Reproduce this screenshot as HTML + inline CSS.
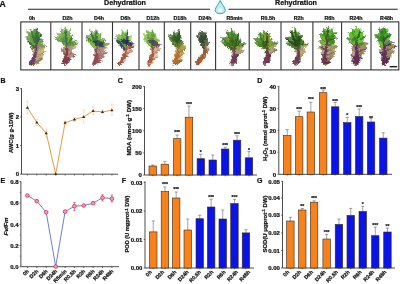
<!DOCTYPE html>
<html><head><meta charset="utf-8"><style>
html,body{margin:0;padding:0;background:#fff;width:400px;height:284px;overflow:hidden}
svg{display:block;will-change:transform}
text{font-family:"Liberation Sans", sans-serif;stroke:#111;stroke-width:0.22px}
</style></head><body>
<svg width="400" height="284" viewBox="0 0 400 284">
<defs><filter id="soft" x="-5%" y="-5%" width="110%" height="110%"><feTurbulence type="turbulence" baseFrequency="0.35" numOctaves="2" seed="4" result="t"/><feDisplacementMap in="SourceGraphic" in2="t" scale="2.6" xChannelSelector="R" yChannelSelector="G" result="d"/><feGaussianBlur in="d" stdDeviation="0.6"/></filter><linearGradient id="pg0" x1="0" y1="0" x2="0" y2="1"><stop offset="0" stop-color="#7aa84a" stop-opacity="1.00"/><stop offset="0.3" stop-color="#5c9440" stop-opacity="1.00"/><stop offset="0.5" stop-color="#7a6a50" stop-opacity="1.00"/><stop offset="0.75" stop-color="#9a7a6a" stop-opacity="0.80"/><stop offset="1" stop-color="#5a2a5a" stop-opacity="0.80"/></linearGradient><linearGradient id="pg1" x1="0" y1="0" x2="0" y2="1"><stop offset="0" stop-color="#8cc050" stop-opacity="1.00"/><stop offset="0.3" stop-color="#6aa040" stop-opacity="1.00"/><stop offset="0.45" stop-color="#6a7060" stop-opacity="1.00"/><stop offset="0.7" stop-color="#9a6a5a" stop-opacity="0.80"/><stop offset="1" stop-color="#7a3a4a" stop-opacity="0.80"/></linearGradient><linearGradient id="pg2" x1="0" y1="0" x2="0" y2="1"><stop offset="0" stop-color="#8cc050" stop-opacity="1.00"/><stop offset="0.3" stop-color="#6aa040" stop-opacity="1.00"/><stop offset="0.45" stop-color="#5a5a6a" stop-opacity="1.00"/><stop offset="0.7" stop-color="#a06a60" stop-opacity="0.80"/><stop offset="1" stop-color="#8a4a4a" stop-opacity="0.80"/></linearGradient><linearGradient id="pg3" x1="0" y1="0" x2="0" y2="1"><stop offset="0" stop-color="#90d050" stop-opacity="1.00"/><stop offset="0.3" stop-color="#70b040" stop-opacity="1.00"/><stop offset="0.4" stop-color="#40406a" stop-opacity="0.92"/><stop offset="0.6" stop-color="#b06a50" stop-opacity="0.52"/><stop offset="1" stop-color="#b05a3a" stop-opacity="0.45"/></linearGradient><linearGradient id="pg4" x1="0" y1="0" x2="0" y2="1"><stop offset="0" stop-color="#8cc050" stop-opacity="1.00"/><stop offset="0.3" stop-color="#6aa040" stop-opacity="1.00"/><stop offset="0.42" stop-color="#6a5a7a" stop-opacity="0.92"/><stop offset="0.6" stop-color="#c07a50" stop-opacity="0.56"/><stop offset="1" stop-color="#b0603a" stop-opacity="0.45"/></linearGradient><linearGradient id="pg5" x1="0" y1="0" x2="0" y2="1"><stop offset="0" stop-color="#4a8a35" stop-opacity="1.00"/><stop offset="0.3" stop-color="#3a6a2a" stop-opacity="1.00"/><stop offset="0.5" stop-color="#8a8a40" stop-opacity="0.96"/><stop offset="0.75" stop-color="#d08a40" stop-opacity="0.90"/><stop offset="1" stop-color="#c07030" stop-opacity="0.90"/></linearGradient><linearGradient id="pg6" x1="0" y1="0" x2="0" y2="1"><stop offset="0" stop-color="#5a7a50" stop-opacity="1.00"/><stop offset="0.35" stop-color="#4a5a45" stop-opacity="1.00"/><stop offset="0.55" stop-color="#8a6a4a" stop-opacity="0.90"/><stop offset="0.8" stop-color="#c07a45" stop-opacity="0.90"/><stop offset="1" stop-color="#b0603a" stop-opacity="0.90"/></linearGradient><linearGradient id="pg7" x1="0" y1="0" x2="0" y2="1"><stop offset="0" stop-color="#4a8a28" stop-opacity="1.00"/><stop offset="0.35" stop-color="#3a7020" stop-opacity="1.00"/><stop offset="0.5" stop-color="#6a6a35" stop-opacity="1.00"/><stop offset="0.7" stop-color="#7a4a55" stop-opacity="0.60"/><stop offset="1" stop-color="#6a3a50" stop-opacity="0.60"/></linearGradient><linearGradient id="pg8" x1="0" y1="0" x2="0" y2="1"><stop offset="0" stop-color="#4a8a28" stop-opacity="1.00"/><stop offset="0.35" stop-color="#3a7020" stop-opacity="1.00"/><stop offset="0.5" stop-color="#6a6a35" stop-opacity="1.00"/><stop offset="0.7" stop-color="#7a4a55" stop-opacity="0.60"/><stop offset="1" stop-color="#6a3a50" stop-opacity="0.60"/></linearGradient><linearGradient id="pg9" x1="0" y1="0" x2="0" y2="1"><stop offset="0" stop-color="#4a8a28" stop-opacity="1.00"/><stop offset="0.35" stop-color="#3a7020" stop-opacity="1.00"/><stop offset="0.5" stop-color="#6a6a35" stop-opacity="1.00"/><stop offset="0.7" stop-color="#7a4a55" stop-opacity="0.60"/><stop offset="1" stop-color="#6a3a50" stop-opacity="0.60"/></linearGradient><linearGradient id="pg10" x1="0" y1="0" x2="0" y2="1"><stop offset="0" stop-color="#4a9a30" stop-opacity="1.00"/><stop offset="0.3" stop-color="#3a8028" stop-opacity="1.00"/><stop offset="0.45" stop-color="#8a8a40" stop-opacity="0.94"/><stop offset="0.7" stop-color="#7a4a5a" stop-opacity="0.70"/><stop offset="1" stop-color="#6a3a5a" stop-opacity="0.70"/></linearGradient><linearGradient id="pg11" x1="0" y1="0" x2="0" y2="1"><stop offset="0" stop-color="#5ab838" stop-opacity="1.00"/><stop offset="0.3" stop-color="#3a9028" stop-opacity="1.00"/><stop offset="0.42" stop-color="#5a5a50" stop-opacity="0.96"/><stop offset="0.65" stop-color="#7a4a68" stop-opacity="0.70"/><stop offset="1" stop-color="#6a3a5a" stop-opacity="0.70"/></linearGradient><linearGradient id="pg12" x1="0" y1="0" x2="0" y2="1"><stop offset="0" stop-color="#5ab838" stop-opacity="1.00"/><stop offset="0.3" stop-color="#3a9028" stop-opacity="1.00"/><stop offset="0.42" stop-color="#5a5a50" stop-opacity="0.96"/><stop offset="0.65" stop-color="#7a4a68" stop-opacity="0.70"/><stop offset="1" stop-color="#6a3a5a" stop-opacity="0.70"/></linearGradient></defs>
<rect width="400" height="284" fill="#fff"/>
<text x="-0.4" y="7.2" font-size="8.6" text-anchor="start" font-weight="bold" fill="#111" >A</text>
<line x1="28" y1="9.3" x2="210" y2="9.3" stroke="#222" stroke-width="1.1"/>
<line x1="228.5" y1="9.3" x2="397.7" y2="9.3" stroke="#222" stroke-width="1.1"/>
<text x="125" y="5.4" font-size="7.2" text-anchor="middle" font-weight="bold" fill="#111" >Dehydration</text>
<text x="296" y="5.4" font-size="7.2" text-anchor="middle" font-weight="bold" fill="#111" >Rehydration</text>
<path d="M220.2,0.5 C221.5,4 225.3,7.5 225.3,10.2 C225.3,12.6 223,13.6 220.2,13.6 C217.4,13.6 215.1,12.6 215.1,10.2 C215.1,7.5 218.9,4 220.2,0.5 Z" fill="#bfeaf0" stroke="#2f9aa0" stroke-width="0.9"/>
<ellipse cx="220.2" cy="10" rx="2.2" ry="1.8" fill="#ffffff" opacity="0.9"/>
<text x="32" y="19.9" font-size="5.3" text-anchor="middle" font-weight="bold" fill="#111" >0h</text>
<text x="67.5" y="19.9" font-size="5.3" text-anchor="middle" font-weight="bold" fill="#111" >D2h</text>
<text x="99" y="19.9" font-size="5.3" text-anchor="middle" font-weight="bold" fill="#111" >D4h</text>
<text x="125.5" y="19.9" font-size="5.3" text-anchor="middle" font-weight="bold" fill="#111" >D6h</text>
<text x="153" y="19.9" font-size="5.3" text-anchor="middle" font-weight="bold" fill="#111" >D12h</text>
<text x="180" y="19.9" font-size="5.3" text-anchor="middle" font-weight="bold" fill="#111" >D18h</text>
<text x="205" y="19.9" font-size="5.3" text-anchor="middle" font-weight="bold" fill="#111" >D24h</text>
<text x="234.5" y="19.9" font-size="5.3" text-anchor="middle" font-weight="bold" fill="#111" >R5min</text>
<text x="268" y="19.9" font-size="5.3" text-anchor="middle" font-weight="bold" fill="#111" >R0.5h</text>
<text x="298.8" y="19.9" font-size="5.3" text-anchor="middle" font-weight="bold" fill="#111" >R2h</text>
<text x="329.5" y="19.9" font-size="5.3" text-anchor="middle" font-weight="bold" fill="#111" >R6h</text>
<text x="356" y="19.9" font-size="5.3" text-anchor="middle" font-weight="bold" fill="#111" >R24h</text>
<text x="386.6" y="19.9" font-size="5.3" text-anchor="middle" font-weight="bold" fill="#111" >R48h</text>
<g id="plants" filter="url(#soft)">
<path d="M32.70,26.20 L35.28,29.44 L36.90,25.40 L37.80,31.80 L41.10,32.10 L39.81,37.20 L43.60,38.90 L41.33,42.25 L46.20,45.60 L41.59,48.60 L45.30,51.60 L40.06,54.55 L42.80,57.50 L37.26,60.00 L38.60,62.50 L33.79,63.75 L32.70,65.00 L30.73,64.20 L28.40,63.40 L30.20,61.30 L30.10,59.20 L32.29,55.80 L32.70,52.40 L32.72,49.00 L29.30,45.60 L31.19,43.10 L26.80,40.60 L29.70,39.24 L24.20,35.50 L29.16,34.84 L25.00,29.60 L30.69,31.80 L29.30,27.90 L33.00,30.44 Z" fill="url(#pg0)" opacity="0.8"/>
<path d="M35.82,44.48 Q37.82,36.44 35.16,26.80 Q33.23,36.61 35.82,44.48 Z" fill="#2f6040" opacity="0.9"/>
<path d="M35.58,45.83 Q38.98,38.95 38.10,29.75 Q34.44,38.24 35.58,45.83 Z" fill="#3f7a30" opacity="0.9"/>
<path d="M36.33,45.21 Q40.26,42.27 40.45,36.50 Q36.10,40.31 36.33,45.21 Z" fill="#70a040" opacity="0.9"/>
<path d="M35.32,44.52 Q38.84,46.21 42.22,43.25 Q38.01,41.69 35.32,44.52 Z" fill="#70a040" opacity="0.9"/>
<path d="M30.46,63.00 Q31.37,65.51 34.26,64.75 Q32.96,62.06 30.46,63.00 Z" fill="#8a7a40" opacity="0.9"/>
<path d="M30.25,63.00 Q28.58,64.36 30.69,65.20 Q32.31,63.62 30.25,63.00 Z" fill="#b0a048" opacity="0.9"/>
<path d="M31.11,62.38 Q33.41,60.19 32.07,56.80 Q29.67,59.55 31.11,62.38 Z" fill="#7a4a60" opacity="0.9"/>
<path d="M34.65,54.89 Q35.30,51.86 32.29,50.00 Q31.87,53.51 34.65,54.89 Z" fill="#8a7a40" opacity="0.9"/>
<path d="M35.37,48.17 Q34.59,44.56 30.40,44.10 Q31.68,48.12 35.37,48.17 Z" fill="#2f6040" opacity="0.9"/>
<path d="M35.50,45.93 Q34.05,41.21 28.65,39.05 Q30.79,44.46 35.50,45.93 Z" fill="#2f6040" opacity="0.9"/>
<path d="M36.25,44.84 Q34.40,38.41 28.02,33.55 Q30.69,41.12 36.25,44.84 Z" fill="#2f6040" opacity="0.9"/>
<path d="M35.55,45.07 Q35.12,37.37 29.80,29.75 Q30.81,38.98 35.55,45.07 Z" fill="#5a9038" opacity="0.9"/>
<path d="M35.91,45.81 Q36.63,37.38 32.50,28.05 Q32.12,38.25 35.91,45.81 Z" fill="#3f7a30" opacity="0.9"/>
<path d="M36.41,45.71 Q37.00,36.50 32.70,26.20 Q32.48,37.36 36.41,45.71 Z" fill="#5a9038" opacity="1.0"/>
<path d="M35.38,45.40 Q38.36,36.57 36.90,25.40 Q33.77,36.22 35.38,45.40 Z" fill="#3f7a30" opacity="1.0"/>
<path d="M35.20,45.43 Q39.96,40.36 41.10,32.10 Q35.75,38.50 35.20,45.43 Z" fill="#2f6040" opacity="1.0"/>
<path d="M35.04,44.57 Q40.17,43.94 43.60,38.90 Q37.62,40.10 35.04,44.57 Z" fill="#70a040" opacity="1.0"/>
<path d="M35.70,49.78 Q41.13,49.66 46.20,45.60 Q39.72,46.13 35.70,49.78 Z" fill="#b0a048" opacity="1.0"/>
<path d="M32.27,57.39 Q38.91,56.52 45.30,51.60 Q37.36,53.05 32.27,57.39 Z" fill="#b0a048" opacity="1.0"/>
<path d="M31.60,63.00 Q37.48,62.23 42.80,57.50 Q35.80,58.82 31.60,63.00 Z" fill="#8a7a40" opacity="1.0"/>
<path d="M31.42,63.00 Q34.78,64.67 38.60,62.50 Q34.52,60.88 31.42,63.00 Z" fill="#b0a048" opacity="1.0"/>
<path d="M30.73,63.00 Q30.26,65.23 32.70,65.00 Q32.97,62.57 30.73,63.00 Z" fill="#6a3a5a" opacity="1.0"/>
<path d="M31.80,63.00 Q30.05,61.29 28.40,63.40 Q30.49,65.07 31.80,63.00 Z" fill="#6a3a5a" opacity="1.0"/>
<path d="M30.37,63.00 Q32.15,61.15 30.10,59.20 Q28.36,61.43 30.37,63.00 Z" fill="#7a4a60" opacity="1.0"/>
<path d="M32.89,56.46 Q34.70,54.54 32.70,52.40 Q30.91,54.72 32.89,56.46 Z" fill="#b0a048" opacity="1.0"/>
<path d="M34.80,50.18 Q33.54,46.66 29.30,45.60 Q31.11,49.58 34.80,50.18 Z" fill="#8a7a40" opacity="1.0"/>
<path d="M35.35,45.96 Q32.72,41.60 26.80,40.60 Q30.28,45.50 35.35,45.96 Z" fill="#2f6040" opacity="1.0"/>
<path d="M36.24,45.92 Q32.33,39.49 24.20,35.50 Q29.32,42.97 36.24,45.92 Z" fill="#70a040" opacity="1.0"/>
<path d="M36.32,44.75 Q33.07,36.56 25.00,29.60 Q29.38,39.31 36.32,44.75 Z" fill="#70a040" opacity="1.0"/>
<path d="M35.82,45.29 Q35.04,36.66 29.30,27.90 Q30.73,38.27 35.82,45.29 Z" fill="#3f7a30" opacity="1.0"/>
<ellipse cx="41" cy="50" rx="4" ry="1.6" fill="#c8b888" opacity="0.85" transform="rotate(-30 41 50)"/>
<ellipse cx="40" cy="56" rx="3.5" ry="1.4" fill="#c0a880" opacity="0.85" transform="rotate(-35 40 56)"/>
<path d="M35.50,42.00 L35.24,43.75 L34.93,45.50 L34.60,47.25 L34.26,49.00 L33.90,50.75 L33.40,52.50 L32.57,54.25 L31.72,56.00 L30.86,57.75 L30.00,59.50 L29.13,61.25 L28.25,63.00 L33.75,63.00 L34.15,61.25 L34.55,59.50 L34.96,57.75 L35.37,56.00 L35.80,54.25 L36.23,52.50 L36.35,50.75 L36.34,49.00 L36.35,47.25 L36.37,45.50 L36.41,43.75 L36.50,42.00 Z" fill="#6a3a6a" opacity="0.92"/>
<ellipse cx="35.5" cy="39" rx="3" ry="4" fill="#2f5a5a" opacity="0.5" transform="rotate(0 35.5 39)"/>
<path d="M55.50,32.10 L60.96,32.44 L59.70,27.00 L63.75,30.08 L64.80,26.20 L66.78,30.44 L69.80,27.90 L69.06,33.84 L72.40,34.70 L71.10,38.92 L76.60,40.60 L72.87,42.28 L78.30,43.10 L72.09,44.35 L74.00,45.60 L70.32,48.15 L72.40,50.70 L70.80,52.40 L75.70,54.10 L70.01,56.20 L70.70,58.30 L67.70,60.40 L69.00,62.50 L65.47,63.75 L63.90,65.00 L63.19,63.75 L61.40,62.50 L63.20,59.15 L63.00,55.80 L63.42,52.40 L60.50,49.00 L63.45,45.65 L63.00,42.30 L62.70,41.28 L58.00,38.90 L59.70,38.92 L53.00,36.40 L58.95,36.20 Z" fill="url(#pg1)" opacity="0.8"/>
<path d="M65.89,45.14 Q65.43,37.73 60.12,30.55 Q61.15,39.42 65.89,45.14 Z" fill="#5a9a30" opacity="0.9"/>
<path d="M66.50,44.41 Q67.36,36.43 63.38,27.60 Q62.83,37.27 66.50,44.41 Z" fill="#3a7a30" opacity="0.9"/>
<path d="M65.46,45.31 Q68.40,37.73 66.91,28.05 Q63.82,37.35 65.46,45.31 Z" fill="#6aa038" opacity="0.9"/>
<path d="M65.60,44.66 Q69.58,39.80 69.57,32.30 Q65.20,38.39 65.60,44.66 Z" fill="#3a7a30" opacity="0.9"/>
<path d="M66.58,44.09 Q70.63,43.26 71.95,38.65 Q67.36,40.03 66.58,44.09 Z" fill="#3a7a30" opacity="0.9"/>
<path d="M65.65,44.76 Q69.93,46.14 74.01,42.85 Q68.90,41.66 65.65,44.76 Z" fill="#3a7a30" opacity="0.9"/>
<path d="M66.30,50.26 Q70.47,49.59 73.11,45.35 Q68.25,46.51 66.30,50.26 Z" fill="#a06a60" opacity="0.9"/>
<path d="M63.75,61.67 Q67.95,61.26 70.81,57.20 Q65.91,58.05 63.75,61.67 Z" fill="#7a3a4a" opacity="0.9"/>
<path d="M63.58,63.00 Q66.30,64.08 68.24,61.40 Q65.06,60.48 63.58,63.00 Z" fill="#a07a50" opacity="0.9"/>
<path d="M66.16,44.75 Q65.78,41.52 62.15,41.60 Q62.94,45.14 66.16,44.75 Z" fill="#5a9a30" opacity="0.9"/>
<path d="M66.44,45.93 Q64.50,40.97 58.65,38.65 Q61.36,44.33 66.44,45.93 Z" fill="#6aa038" opacity="0.9"/>
<path d="M66.49,44.33 Q64.23,38.65 57.77,35.25 Q60.91,41.84 66.49,44.33 Z" fill="#3a7a30" opacity="0.9"/>
<path d="M65.86,44.87 Q62.99,37.67 55.50,32.10 Q59.41,40.57 65.86,44.87 Z" fill="#7ab040" opacity="1.0"/>
<path d="M65.43,45.36 Q65.05,36.41 59.70,27.00 Q60.66,37.78 65.43,45.36 Z" fill="#7ab040" opacity="1.0"/>
<path d="M65.63,45.73 Q67.55,36.84 64.80,26.20 Q62.96,37.04 65.63,45.73 Z" fill="#3a7a30" opacity="1.0"/>
<path d="M66.24,44.33 Q70.09,37.42 69.80,27.90 Q65.59,36.45 66.24,44.33 Z" fill="#7ab040" opacity="1.0"/>
<path d="M65.97,45.56 Q70.84,41.84 72.40,34.70 Q66.88,39.50 65.97,45.56 Z" fill="#3a7a30" opacity="1.0"/>
<path d="M65.56,44.66 Q71.32,44.99 76.60,40.60 Q69.73,40.67 65.56,44.66 Z" fill="#5a9a30" opacity="1.0"/>
<path d="M65.71,44.66 Q71.66,46.24 78.30,43.10 Q71.09,41.68 65.71,44.66 Z" fill="#5a9a30" opacity="1.0"/>
<path d="M65.85,50.12 Q70.44,49.75 74.00,45.60 Q68.59,46.43 65.85,50.12 Z" fill="#a06a60" opacity="1.0"/>
<path d="M65.96,55.48 Q69.99,54.86 72.40,50.70 Q67.72,51.80 65.96,55.48 Z" fill="#a06a60" opacity="1.0"/>
<path d="M65.41,59.57 Q70.93,58.79 75.70,54.10 Q69.15,55.43 65.41,59.57 Z" fill="#7a3a4a" opacity="1.0"/>
<path d="M64.16,63.00 Q68.21,62.43 70.70,58.30 Q66.00,59.34 64.16,63.00 Z" fill="#8a4a50" opacity="1.0"/>
<path d="M64.28,63.00 Q66.60,64.66 69.00,62.50 Q66.20,60.89 64.28,63.00 Z" fill="#a07a50" opacity="1.0"/>
<path d="M64.07,63.00 Q62.10,63.74 63.90,65.00 Q65.88,64.06 64.07,63.00 Z" fill="#7a3a4a" opacity="1.0"/>
<path d="M63.98,63.00 Q63.18,60.91 61.40,62.50 Q62.46,64.64 63.98,63.00 Z" fill="#a06a60" opacity="1.0"/>
<path d="M63.74,60.92 Q65.29,58.34 63.00,55.80 Q61.52,58.89 63.74,60.92 Z" fill="#a07a50" opacity="1.0"/>
<path d="M66.11,54.66 Q64.94,50.77 60.50,49.00 Q62.24,53.45 66.11,54.66 Z" fill="#a07a50" opacity="1.0"/>
<path d="M65.28,45.07 Q66.03,42.36 63.00,42.30 Q62.48,45.29 65.28,45.07 Z" fill="#5a9a30" opacity="1.0"/>
<path d="M66.17,44.30 Q63.76,39.95 58.00,38.90 Q61.23,43.79 66.17,44.30 Z" fill="#6aa038" opacity="1.0"/>
<path d="M66.58,44.28 Q61.62,38.74 53.00,36.40 Q59.31,42.72 66.58,44.28 Z" fill="#6aa038" opacity="1.0"/>
<ellipse cx="72" cy="47" rx="4" ry="1.5" fill="#b8a080" opacity="0.85" transform="rotate(-25 72 47)"/>
<ellipse cx="71" cy="55" rx="3.5" ry="1.4" fill="#b09070" opacity="0.85" transform="rotate(-30 71 55)"/>
<path d="M65.50,42.00 L65.41,43.75 L65.28,45.50 L65.13,47.25 L64.96,49.00 L64.78,50.75 L64.50,52.50 L63.97,54.25 L63.44,56.00 L62.91,57.75 L62.36,59.50 L61.81,61.25 L61.25,63.00 L66.75,63.00 L66.83,61.25 L66.91,59.50 L67.00,57.75 L67.10,56.00 L67.21,54.25 L67.32,52.50 L67.22,50.75 L67.04,49.00 L66.87,47.25 L66.72,45.50 L66.59,43.75 L66.50,42.00 Z" fill="#7a3a4a" opacity="0.92"/>
<ellipse cx="64" cy="39" rx="3" ry="3.5" fill="#3a6a7a" opacity="0.5" transform="rotate(0 64 39)"/>
<path d="M84.20,33.80 L90.45,34.24 L89.30,28.80 L93.99,31.88 L96.00,27.90 L97.29,33.20 L100.30,32.10 L100.08,37.60 L105.30,38.90 L102.87,42.00 L109.60,43.10 L102.87,44.80 L105.30,46.50 L102.09,49.05 L107.00,51.60 L101.58,53.70 L103.60,55.80 L99.73,57.90 L102.00,60.00 L96.60,62.10 L94.40,64.20 L93.46,64.60 L91.80,65.00 L93.03,62.10 L92.70,59.20 L94.10,55.80 L93.50,52.40 L93.75,48.20 L91.00,44.00 L91.74,42.68 L86.80,39.70 L89.70,39.96 L84.20,37.20 L88.92,37.60 Z" fill="url(#pg2)" opacity="0.8"/>
<path d="M96.49,47.04 Q95.44,39.43 89.53,32.30 Q91.28,41.39 96.49,47.04 Z" fill="#3a7a30" opacity="0.9"/>
<path d="M96.43,46.58 Q97.45,38.46 93.66,29.35 Q92.91,39.19 96.43,46.58 Z" fill="#3a7a30" opacity="0.9"/>
<path d="M95.24,46.22 Q98.54,39.71 97.51,31.00 Q93.99,39.03 95.24,46.22 Z" fill="#7ab040" opacity="0.9"/>
<path d="M95.87,47.63 Q100.18,43.55 100.76,36.50 Q95.97,41.70 95.87,47.63 Z" fill="#3a7a30" opacity="0.9"/>
<path d="M96.30,47.28 Q101.07,46.80 104.01,42.00 Q98.47,43.01 96.30,47.28 Z" fill="#7ab040" opacity="0.9"/>
<path d="M95.15,55.63 Q99.82,54.68 103.11,50.05 Q97.64,51.57 95.15,55.63 Z" fill="#a86a60" opacity="0.9"/>
<path d="M94.21,59.36 Q98.87,58.92 102.51,54.70 Q97.01,55.61 94.21,59.36 Z" fill="#9a5050" opacity="0.9"/>
<path d="M93.33,63.00 Q97.50,62.80 100.50,58.90 Q95.61,59.51 93.33,63.00 Z" fill="#a07050" opacity="0.9"/>
<path d="M94.16,63.00 Q95.37,64.94 97.00,63.10 Q95.50,61.15 94.16,63.00 Z" fill="#a07050" opacity="0.9"/>
<path d="M93.28,63.00 Q92.67,61.19 92.84,63.10 Q93.50,64.90 93.28,63.00 Z" fill="#8a4050" opacity="0.9"/>
<path d="M95.60,46.43 Q94.96,43.01 91.03,42.85 Q92.12,46.63 95.60,46.43 Z" fill="#3a7a30" opacity="0.9"/>
<path d="M95.30,46.12 Q93.94,41.49 88.65,39.45 Q90.68,44.74 95.30,46.12 Z" fill="#3a7a30" opacity="0.9"/>
<path d="M96.17,46.39 Q94.12,40.45 87.74,36.50 Q90.62,43.43 96.17,46.39 Z" fill="#8cc048" opacity="0.9"/>
<path d="M95.69,46.50 Q92.23,39.24 84.20,33.80 Q88.82,42.33 95.69,46.50 Z" fill="#3a7a30" opacity="1.0"/>
<path d="M95.73,46.64 Q95.00,37.83 89.30,28.80 Q90.67,39.39 95.73,46.64 Z" fill="#3a7a30" opacity="1.0"/>
<path d="M95.28,46.67 Q97.90,38.31 96.00,27.90 Q93.31,38.14 95.28,46.67 Z" fill="#3a7a30" opacity="1.0"/>
<path d="M96.39,46.04 Q100.36,40.39 100.30,32.10 Q95.94,39.15 96.39,46.04 Z" fill="#7ab040" opacity="1.0"/>
<path d="M96.37,47.27 Q101.96,45.18 105.30,38.90 Q98.81,41.82 96.37,47.27 Z" fill="#3a7a30" opacity="1.0"/>
<path d="M96.40,46.52 Q102.91,47.21 109.60,43.10 Q101.76,42.75 96.40,46.52 Z" fill="#7ab040" opacity="1.0"/>
<path d="M96.10,50.54 Q101.01,50.46 105.30,46.50 Q99.48,46.98 96.10,50.54 Z" fill="#a86a60" opacity="1.0"/>
<path d="M95.84,56.41 Q101.61,55.99 107.00,51.60 Q100.11,52.50 95.84,56.41 Z" fill="#a07050" opacity="1.0"/>
<path d="M95.42,60.17 Q100.00,59.88 103.60,55.80 Q98.21,56.53 95.42,60.17 Z" fill="#a86a60" opacity="1.0"/>
<path d="M94.65,63.00 Q98.68,63.41 102.00,60.00 Q97.24,59.89 94.65,63.00 Z" fill="#9a5050" opacity="1.0"/>
<path d="M94.06,63.00 Q92.38,64.06 94.40,64.20 Q96.04,63.02 94.06,63.00 Z" fill="#8a4050" opacity="1.0"/>
<path d="M93.28,63.00 Q91.09,62.77 91.80,65.00 Q94.14,65.03 93.28,63.00 Z" fill="#a07050" opacity="1.0"/>
<path d="M94.43,63.00 Q95.38,60.50 92.70,59.20 Q91.92,62.08 94.43,63.00 Z" fill="#8a4050" opacity="1.0"/>
<path d="M95.02,57.71 Q96.16,54.80 93.50,52.40 Q92.51,55.85 95.02,57.71 Z" fill="#9a5050" opacity="1.0"/>
<path d="M96.07,47.08 Q94.98,43.73 91.00,44.00 Q92.59,47.66 96.07,47.08 Z" fill="#8cc048" opacity="1.0"/>
<path d="M96.73,46.45 Q93.56,41.51 86.80,39.70 Q90.97,45.31 96.73,46.45 Z" fill="#8cc048" opacity="1.0"/>
<path d="M95.28,47.60 Q91.87,41.24 84.20,37.20 Q88.72,44.60 95.28,47.60 Z" fill="#7ab040" opacity="1.0"/>
<ellipse cx="103" cy="48" rx="4" ry="1.5" fill="#b89080" opacity="0.85" transform="rotate(-25 103 48)"/>
<ellipse cx="101" cy="56" rx="3.5" ry="1.4" fill="#b08070" opacity="0.85" transform="rotate(-30 101 56)"/>
<path d="M95.50,44.00 L95.41,45.58 L95.28,47.17 L95.13,48.75 L94.96,50.33 L94.78,51.92 L94.59,53.50 L94.14,55.08 L93.58,56.67 L93.01,58.25 L92.43,59.83 L91.84,61.42 L91.25,63.00 L96.75,63.00 L96.86,61.42 L96.98,59.83 L97.10,58.25 L97.24,56.67 L97.38,55.08 L97.41,53.50 L97.22,51.92 L97.04,50.33 L96.87,48.75 L96.72,47.17 L96.59,45.58 L96.50,44.00 Z" fill="#8a4a50" opacity="0.92"/>
<ellipse cx="98" cy="43" rx="6" ry="2.8" fill="#2a2a5a" opacity="0.7" transform="rotate(25 98 43)"/>
<path d="M114.60,33.80 L120.93,34.28 L120.50,27.90 L124.50,32.28 L126.50,28.80 L127.56,35.00 L130.70,34.70 L129.81,40.72 L134.00,43.10 L131.31,44.76 L135.70,44.80 L130.20,47.35 L130.70,49.90 L127.78,52.00 L129.00,54.10 L125.47,57.05 L125.60,60.00 L121.32,62.50 L119.70,65.00 L118.67,64.60 L117.20,64.20 L119.66,60.00 L120.50,55.80 L122.72,51.55 L122.20,47.30 L122.97,46.12 L119.70,44.00 L121.20,42.76 L116.30,38.90 L119.43,40.04 L113.80,37.20 L118.92,38.00 Z" fill="url(#pg3)" opacity="0.8"/>
<path d="M125.78,49.42 Q125.41,40.81 120.08,31.85 Q121.03,42.23 125.78,49.42 Z" fill="#6ab040" opacity="0.9"/>
<path d="M124.93,48.44 Q126.92,39.77 124.25,29.35 Q122.32,39.93 124.93,48.44 Z" fill="#6ab040" opacity="0.9"/>
<path d="M124.60,49.34 Q128.31,42.31 127.82,32.75 Q123.79,41.44 124.60,49.34 Z" fill="#6ab040" opacity="0.9"/>
<path d="M124.85,49.61 Q129.36,46.39 130.44,39.90 Q125.38,44.09 124.85,49.61 Z" fill="#8cd048" opacity="0.9"/>
<path d="M125.94,48.88 Q129.56,48.38 132.19,44.95 Q127.96,45.84 125.94,48.88 Z" fill="#a05a3a" opacity="0.9"/>
<path d="M119.29,63.00 Q120.04,64.69 121.65,63.50 Q120.66,61.76 119.29,63.00 Z" fill="#a05a3a" opacity="0.9"/>
<path d="M118.79,63.00 Q117.21,64.07 118.62,65.60 Q120.21,64.27 118.79,63.00 Z" fill="#b86a48" opacity="0.9"/>
<path d="M123.17,56.74 Q124.29,54.58 122.38,52.55 Q121.34,55.14 123.17,56.74 Z" fill="#c07850" opacity="0.9"/>
<path d="M124.80,49.72 Q124.94,47.43 122.47,46.65 Q122.56,49.25 124.80,49.72 Z" fill="#b86a48" opacity="0.9"/>
<path d="M125.46,48.29 Q124.07,42.73 118.33,39.05 Q120.43,45.53 125.46,48.29 Z" fill="#6ab040" opacity="0.9"/>
<path d="M124.96,48.95 Q123.70,42.19 117.74,36.50 Q119.72,44.50 124.96,48.95 Z" fill="#6ab040" opacity="0.9"/>
<path d="M124.91,49.06 Q122.18,40.91 114.60,33.80 Q118.36,43.48 124.91,49.06 Z" fill="#6ab040" opacity="1.0"/>
<path d="M125.67,48.52 Q125.57,38.68 120.50,27.90 Q121.11,39.80 125.67,48.52 Z" fill="#6ab040" opacity="1.0"/>
<path d="M125.85,48.78 Q128.44,39.86 126.50,28.80 Q123.85,39.72 125.85,48.78 Z" fill="#3a4a6a" opacity="1.0"/>
<path d="M125.31,48.13 Q129.87,42.95 130.70,34.70 Q125.60,41.23 125.31,48.13 Z" fill="#a0d858" opacity="1.0"/>
<path d="M124.94,48.50 Q129.79,47.36 134.00,43.10 Q128.25,44.78 124.94,48.50 Z" fill="#c07850" opacity="1.0"/>
<path d="M126.02,48.68 Q130.94,48.33 135.70,44.80 Q129.82,45.54 126.02,48.68 Z" fill="#904a38" opacity="1.0"/>
<path d="M124.82,53.97 Q128.32,53.37 130.70,49.90 Q126.61,50.90 124.82,53.97 Z" fill="#904a38" opacity="1.0"/>
<path d="M121.97,58.98 Q125.99,58.01 129.00,54.10 Q124.28,55.55 121.97,58.98 Z" fill="#a05a3a" opacity="1.0"/>
<path d="M119.78,63.00 Q123.09,62.98 125.60,60.00 Q121.71,60.32 119.78,63.00 Z" fill="#c07850" opacity="1.0"/>
<path d="M119.06,63.00 Q117.92,64.36 119.70,65.00 Q120.78,63.44 119.06,63.00 Z" fill="#c07850" opacity="1.0"/>
<path d="M119.54,63.00 Q117.80,62.21 117.20,64.20 Q119.17,64.87 119.54,63.00 Z" fill="#904a38" opacity="1.0"/>
<path d="M120.29,60.41 Q121.88,58.40 120.50,55.80 Q118.89,58.27 120.29,60.41 Z" fill="#904a38" opacity="1.0"/>
<path d="M124.53,49.49 Q124.51,47.41 122.20,47.30 Q122.45,49.60 124.53,49.49 Z" fill="#a05a3a" opacity="1.0"/>
<path d="M125.83,49.82 Q124.10,46.11 119.70,44.00 Q122.04,48.29 125.83,49.82 Z" fill="#a05a3a" opacity="1.0"/>
<path d="M125.12,49.38 Q122.91,43.19 116.30,38.90 Q119.39,46.15 125.12,49.38 Z" fill="#3a4a6a" opacity="1.0"/>
<path d="M124.78,49.81 Q121.57,42.63 113.80,37.20 Q118.11,45.65 124.78,49.81 Z" fill="#3a4a6a" opacity="1.0"/>
<ellipse cx="129" cy="51" rx="3.5" ry="1.4" fill="#d09070" opacity="0.85" transform="rotate(-25 129 51)"/>
<path d="M125.50,46.00 L125.11,47.42 L124.68,48.83 L124.23,50.25 L123.77,51.67 L123.30,53.08 L122.82,54.50 L121.96,55.92 L120.89,57.33 L119.81,58.75 L118.73,60.17 L117.64,61.58 L116.55,63.00 L121.45,63.00 L122.13,61.58 L122.81,60.17 L123.50,58.75 L124.19,57.33 L124.89,55.92 L125.40,54.50 L125.55,53.08 L125.71,51.67 L125.88,50.25 L126.06,48.83 L126.26,47.42 L126.50,46.00 Z" fill="#a05040" opacity="0.92"/>
<ellipse cx="126" cy="42" rx="6" ry="2.8" fill="#1a1a5a" opacity="0.75" transform="rotate(25 126 42)"/>
<path d="M141.40,33.00 L147.30,33.92 L145.60,28.80 L150.33,31.88 L151.50,27.90 L153.12,33.20 L154.90,32.10 L155.40,37.60 L159.10,38.90 L157.41,42.36 L161.60,44.00 L157.58,46.50 L160.00,49.00 L156.35,52.40 L158.30,55.80 L153.33,59.15 L153.20,62.50 L149.59,64.20 L148.10,65.90 L147.55,64.65 L146.40,63.40 L148.15,59.60 L148.10,55.80 L150.27,51.55 L149.80,47.30 L150.03,44.80 L146.40,42.30 L148.02,41.32 L143.00,38.00 L146.52,37.60 Z" fill="url(#pg4)" opacity="0.8"/>
<path d="M152.18,46.02 Q151.68,38.79 146.35,31.90 Q147.43,40.55 152.18,46.02 Z" fill="#4a4a6a" opacity="0.9"/>
<path d="M152.04,46.28 Q153.35,38.37 149.89,29.35 Q148.79,38.95 152.04,46.28 Z" fill="#7ab840" opacity="0.9"/>
<path d="M153.03,47.07 Q155.38,39.85 153.14,31.00 Q150.78,39.82 153.03,47.07 Z" fill="#5a9a35" opacity="0.9"/>
<path d="M153.16,46.29 Q156.57,42.49 155.80,36.50 Q152.13,41.29 153.16,46.29 Z" fill="#7ab840" opacity="0.9"/>
<path d="M148.08,63.00 Q146.34,63.86 147.47,65.65 Q149.27,64.52 148.08,63.00 Z" fill="#a85a38" opacity="0.9"/>
<path d="M147.53,63.00 Q149.19,62.17 147.93,60.60 Q146.23,61.67 147.53,63.00 Z" fill="#985030" opacity="0.9"/>
<path d="M151.22,56.61 Q152.07,54.33 149.94,52.55 Q149.21,55.23 151.22,56.61 Z" fill="#a85a38" opacity="0.9"/>
<path d="M153.24,46.66 Q152.07,42.48 147.19,41.15 Q148.97,45.88 153.24,46.66 Z" fill="#4a4a6a" opacity="0.9"/>
<path d="M152.53,46.08 Q151.19,40.40 145.44,36.50 Q147.49,43.14 152.53,46.08 Z" fill="#90c850" opacity="0.9"/>
<path d="M152.66,47.14 Q149.39,39.35 141.40,33.00 Q145.79,42.21 152.66,47.14 Z" fill="#90c850" opacity="1.0"/>
<path d="M153.37,47.92 Q152.00,38.45 145.60,28.80 Q147.74,40.18 153.37,47.92 Z" fill="#7ab840" opacity="1.0"/>
<path d="M152.33,47.58 Q154.26,38.63 151.50,27.90 Q149.66,38.82 152.33,47.58 Z" fill="#5a9a35" opacity="1.0"/>
<path d="M153.39,47.12 Q156.36,40.59 154.90,32.10 Q151.78,40.13 153.39,47.12 Z" fill="#90c850" opacity="1.0"/>
<path d="M152.29,46.19 Q157.03,44.48 159.10,38.90 Q153.67,41.34 152.29,46.19 Z" fill="#90c850" opacity="1.0"/>
<path d="M152.01,47.39 Q156.83,47.28 161.60,44.00 Q155.83,44.45 152.01,47.39 Z" fill="#985030" opacity="1.0"/>
<path d="M151.73,53.57 Q156.18,52.83 160.00,49.00 Q154.73,50.20 151.73,53.57 Z" fill="#a85a38" opacity="1.0"/>
<path d="M148.85,60.03 Q153.71,59.49 158.30,55.80 Q152.49,56.76 148.85,60.03 Z" fill="#c07848" opacity="1.0"/>
<path d="M148.46,63.00 Q150.75,64.27 153.20,62.50 Q150.44,61.28 148.46,63.00 Z" fill="#b86a40" opacity="1.0"/>
<path d="M148.60,63.00 Q146.89,64.05 148.10,65.90 Q149.85,64.56 148.60,63.00 Z" fill="#b86a40" opacity="1.0"/>
<path d="M147.52,63.00 Q146.51,61.77 146.40,63.40 Q147.52,64.59 147.52,63.00 Z" fill="#a85a38" opacity="1.0"/>
<path d="M149.35,61.23 Q150.25,58.45 148.10,55.80 Q147.33,59.12 149.35,61.23 Z" fill="#985030" opacity="1.0"/>
<path d="M152.44,51.42 Q152.51,48.75 149.80,47.30 Q149.99,50.37 152.44,51.42 Z" fill="#c07848" opacity="1.0"/>
<path d="M153.40,47.72 Q151.66,43.46 146.40,42.30 Q148.84,47.10 153.40,47.72 Z" fill="#4a4a6a" opacity="1.0"/>
<path d="M151.93,47.27 Q149.57,41.50 143.00,38.00 Q146.26,44.70 151.93,47.27 Z" fill="#7ab840" opacity="1.0"/>
<ellipse cx="157" cy="50" rx="3.5" ry="1.4" fill="#d09a60" opacity="0.85" transform="rotate(-25 157 50)"/>
<path d="M152.50,44.00 L152.26,45.58 L151.99,47.17 L151.70,48.75 L151.40,50.33 L151.08,51.92 L150.76,53.50 L150.05,55.08 L149.16,56.67 L148.27,58.25 L147.37,59.83 L146.46,61.42 L145.55,63.00 L150.45,63.00 L150.95,61.42 L151.45,59.83 L151.95,58.25 L152.47,56.67 L152.99,55.08 L153.34,53.50 L153.33,51.92 L153.33,50.33 L153.35,48.75 L153.37,47.17 L153.42,45.58 L153.50,44.00 Z" fill="#a05a3a" opacity="0.92"/>
<ellipse cx="153" cy="42" rx="6" ry="2.8" fill="#3a2a5a" opacity="0.7" transform="rotate(25 153 42)"/>
<path d="M166.70,33.00 L172.75,34.24 L171.80,29.60 L176.29,32.56 L178.50,28.80 L178.81,34.92 L180.20,35.50 L180.34,39.64 L183.60,40.60 L182.11,44.36 L186.10,47.30 L181.90,49.85 L183.60,52.40 L180.33,55.80 L181.90,59.20 L177.50,61.30 L176.90,63.40 L174.21,63.80 L171.80,64.20 L173.12,61.70 L172.60,59.20 L174.75,55.80 L174.30,52.40 L175.36,49.00 L173.50,45.60 L174.28,43.68 L170.10,40.60 L172.51,40.32 L167.60,37.20 L171.49,37.28 Z" fill="url(#pg5)" opacity="0.8"/>
<path d="M177.59,47.28 Q177.17,39.72 171.88,32.30 Q172.87,41.36 177.59,47.28 Z" fill="#3a6a2a" opacity="0.9"/>
<path d="M178.12,46.13 Q179.45,38.66 176.00,30.20 Q174.89,39.27 178.12,46.13 Z" fill="#2a5a25" opacity="0.9"/>
<path d="M178.07,46.09 Q180.76,40.42 178.94,33.15 Q176.17,40.11 178.07,46.09 Z" fill="#2a5a25" opacity="0.9"/>
<path d="M178.09,46.66 Q181.45,43.99 180.73,39.05 Q177.11,42.48 178.09,46.66 Z" fill="#2a5a25" opacity="0.9"/>
<path d="M178.47,46.95 Q181.38,48.14 182.79,44.95 Q179.45,43.96 178.47,46.95 Z" fill="#6a8a30" opacity="0.9"/>
<path d="M174.06,63.00 Q176.22,64.95 177.97,62.30 Q175.41,60.42 174.06,63.00 Z" fill="#a07a30" opacity="0.9"/>
<path d="M176.67,55.82 Q178.13,52.56 174.99,50.00 Q173.71,53.84 176.67,55.82 Z" fill="#c08a40" opacity="0.9"/>
<path d="M178.04,46.87 Q177.30,43.68 173.66,44.10 Q174.84,47.57 178.04,46.87 Z" fill="#4f7a35" opacity="0.9"/>
<path d="M177.02,47.40 Q176.44,42.68 171.59,39.90 Q172.71,45.37 177.02,47.40 Z" fill="#4f7a35" opacity="0.9"/>
<path d="M178.55,46.61 Q176.70,40.47 170.40,36.10 Q173.07,43.29 178.55,46.61 Z" fill="#4f7a35" opacity="0.9"/>
<path d="M177.55,47.71 Q174.52,39.73 166.70,33.00 Q170.81,42.46 177.55,47.71 Z" fill="#4f7a35" opacity="1.0"/>
<path d="M178.22,47.59 Q177.50,38.72 171.80,29.60 Q173.17,40.27 178.22,47.59 Z" fill="#3a6a2a" opacity="1.0"/>
<path d="M178.43,47.84 Q180.76,39.28 178.50,28.80 Q176.16,39.26 178.43,47.84 Z" fill="#2a5a25" opacity="1.0"/>
<path d="M177.80,47.74 Q181.14,42.68 180.20,35.50 Q176.62,41.79 177.80,47.74 Z" fill="#3a6a2a" opacity="1.0"/>
<path d="M177.21,46.44 Q181.64,45.51 183.60,40.60 Q178.53,42.12 177.21,46.44 Z" fill="#6a8a30" opacity="1.0"/>
<path d="M176.47,53.16 Q182.00,52.49 186.10,47.30 Q179.61,48.56 176.47,53.16 Z" fill="#a07a30" opacity="1.0"/>
<path d="M176.55,57.49 Q181.07,57.06 183.60,52.40 Q178.38,53.33 176.55,57.49 Z" fill="#c08a40" opacity="1.0"/>
<path d="M174.65,63.00 Q178.98,63.33 181.90,59.20 Q176.84,59.25 174.65,63.00 Z" fill="#8a6a28" opacity="1.0"/>
<path d="M173.75,63.00 Q174.88,65.46 176.90,63.40 Q175.45,60.90 173.75,63.00 Z" fill="#8a6a28" opacity="1.0"/>
<path d="M173.24,63.00 Q171.12,61.77 171.80,64.20 Q174.06,65.31 173.24,63.00 Z" fill="#a07a30" opacity="1.0"/>
<path d="M174.07,63.00 Q175.56,60.46 172.60,59.20 Q171.27,62.12 174.07,63.00 Z" fill="#c08a40" opacity="1.0"/>
<path d="M175.68,56.97 Q177.26,54.25 174.30,52.40 Q172.86,55.58 175.68,56.97 Z" fill="#c08a40" opacity="1.0"/>
<path d="M177.49,46.04 Q175.95,43.56 173.50,45.60 Q175.44,48.13 177.49,46.04 Z" fill="#4f7a35" opacity="1.0"/>
<path d="M177.10,46.75 Q175.47,42.26 170.10,40.60 Q172.43,45.71 177.10,46.75 Z" fill="#3a6a2a" opacity="1.0"/>
<path d="M177.63,47.07 Q174.73,40.99 167.60,37.20 Q171.50,44.27 177.63,47.07 Z" fill="#6a8a30" opacity="1.0"/>
<ellipse cx="182" cy="46" rx="3" ry="1.3" fill="#b0a050" opacity="0.85" transform="rotate(-25 182 46)"/>
<path d="M177.50,44.00 L177.28,45.58 L177.02,47.17 L176.75,48.75 L176.46,50.33 L176.16,51.92 L175.84,53.50 L175.50,55.08 L174.72,56.67 L173.94,58.25 L173.15,59.83 L172.35,61.42 L171.55,63.00 L176.45,63.00 L176.84,61.42 L177.23,59.83 L177.62,58.25 L178.03,56.67 L178.44,55.08 L178.43,53.50 L178.41,51.92 L178.39,50.33 L178.39,48.75 L178.40,47.17 L178.43,45.58 L178.50,44.00 Z" fill="#b06a30" opacity="0.92"/>
<ellipse cx="175" cy="38" rx="4" ry="3" fill="#2a4a25" opacity="0.5" transform="rotate(0 175 38)"/>
<path d="M197.60,31.30 L200.91,32.84 L200.10,28.80 L203.19,32.48 L205.20,30.40 L205.23,35.84 L206.90,37.20 L206.49,40.60 L209.40,42.30 L207.15,45.65 L208.60,49.00 L206.01,52.40 L205.20,55.80 L201.57,59.15 L201.00,62.50 L198.14,63.35 L196.80,64.20 L196.10,63.35 L194.20,62.50 L197.49,59.15 L198.40,55.80 L202.20,52.40 L202.70,49.00 L202.62,46.50 L200.10,44.00 L200.67,41.96 L196.80,38.90 L199.14,38.24 L195.00,34.70 L199.38,35.20 Z" fill="url(#pg6)" opacity="0.8"/>
<path d="M204.24,44.54 Q204.72,37.84 200.39,31.05 Q200.29,39.10 204.24,44.54 Z" fill="#3a4a35" opacity="0.9"/>
<path d="M203.50,44.61 Q205.60,38.23 203.05,30.60 Q201.00,38.38 203.50,44.61 Z" fill="#4a5a40" opacity="0.9"/>
<path d="M203.86,44.02 Q206.83,40.26 205.44,34.80 Q202.30,39.48 203.86,44.02 Z" fill="#3a4a35" opacity="0.9"/>
<path d="M204.96,45.91 Q207.99,44.40 206.91,40.75 Q203.68,42.78 204.96,45.91 Z" fill="#5a6a48" opacity="0.9"/>
<path d="M197.32,62.00 Q195.66,63.97 198.33,64.35 Q199.89,62.15 197.32,62.00 Z" fill="#a06a40" opacity="0.9"/>
<path d="M196.77,62.00 Q194.23,62.30 195.95,64.35 Q198.57,63.82 196.77,62.00 Z" fill="#b07040" opacity="0.9"/>
<path d="M196.34,62.00 Q198.82,62.13 197.19,60.15 Q194.64,60.21 196.34,62.00 Z" fill="#b07040" opacity="0.9"/>
<path d="M199.74,58.97 Q202.82,57.26 201.79,53.40 Q198.51,55.67 199.74,58.97 Z" fill="#8a5a38" opacity="0.9"/>
<path d="M204.93,52.82 Q205.82,49.41 202.31,47.50 Q201.69,51.44 204.93,52.82 Z" fill="#8a5a38" opacity="0.9"/>
<path d="M204.48,45.29 Q203.77,42.08 200.11,42.45 Q201.26,45.94 204.48,45.29 Z" fill="#3a4a35" opacity="0.9"/>
<path d="M204.10,44.99 Q203.30,40.31 198.33,37.80 Q199.71,43.19 204.10,44.99 Z" fill="#3a4a35" opacity="0.9"/>
<path d="M204.47,44.70 Q203.85,38.78 198.61,34.00 Q199.82,40.99 204.47,44.70 Z" fill="#3a4a35" opacity="0.9"/>
<path d="M204.59,44.50 Q203.48,37.48 197.60,31.30 Q199.41,39.64 204.59,44.50 Z" fill="#4a5a40" opacity="1.0"/>
<path d="M204.12,44.59 Q204.54,36.92 200.10,28.80 Q200.08,38.05 204.12,44.59 Z" fill="#4a5a40" opacity="1.0"/>
<path d="M204.16,44.29 Q206.92,38.21 205.20,30.40 Q202.33,37.87 204.16,44.29 Z" fill="#3a4a35" opacity="1.0"/>
<path d="M203.61,45.12 Q207.22,42.44 206.90,37.20 Q202.97,40.67 203.61,45.12 Z" fill="#5a6a48" opacity="1.0"/>
<path d="M203.57,45.22 Q207.22,45.96 209.40,42.30 Q205.16,41.85 203.57,45.22 Z" fill="#5a6a48" opacity="1.0"/>
<path d="M203.18,54.32 Q207.23,53.57 208.60,49.00 Q204.01,50.28 203.18,54.32 Z" fill="#b07040" opacity="1.0"/>
<path d="M197.72,60.44 Q202.30,60.30 205.20,55.80 Q199.87,56.40 197.72,60.44 Z" fill="#a06a40" opacity="1.0"/>
<path d="M196.28,62.00 Q198.16,64.51 201.00,62.50 Q198.65,59.94 196.28,62.00 Z" fill="#a06a40" opacity="1.0"/>
<path d="M197.66,62.00 Q195.13,62.15 196.80,64.20 Q199.42,63.83 197.66,62.00 Z" fill="#8a5a38" opacity="1.0"/>
<path d="M196.65,62.00 Q195.08,59.97 194.20,62.50 Q196.01,64.48 196.65,62.00 Z" fill="#b07040" opacity="1.0"/>
<path d="M198.07,60.20 Q200.51,58.39 198.40,55.80 Q195.93,58.05 198.07,60.20 Z" fill="#a06a40" opacity="1.0"/>
<path d="M203.20,54.29 Q205.26,51.69 202.70,49.00 Q200.68,52.12 203.20,54.29 Z" fill="#8a5a38" opacity="1.0"/>
<path d="M203.89,48.45 Q203.94,44.96 200.10,44.00 Q200.43,47.94 203.89,48.45 Z" fill="#3a4a35" opacity="1.0"/>
<path d="M203.94,45.20 Q202.25,40.64 196.80,38.90 Q199.21,44.09 203.94,45.20 Z" fill="#4a5a40" opacity="1.0"/>
<path d="M204.40,44.19 Q201.80,38.30 195.00,34.70 Q198.53,41.54 204.40,44.19 Z" fill="#3a4a35" opacity="1.0"/>
<path d="M203.50,42.00 L203.55,43.67 L203.54,45.33 L203.51,47.00 L203.45,48.67 L203.37,50.33 L203.28,52.00 L201.68,53.67 L200.06,55.33 L198.44,57.00 L196.80,58.67 L195.15,60.33 L193.50,62.00 L200.50,62.00 L201.51,60.33 L202.53,58.67 L203.56,57.00 L204.60,55.33 L205.66,53.67 L206.72,52.00 L206.29,50.33 L205.89,48.67 L205.49,47.00 L205.13,45.33 L204.79,43.67 L204.50,42.00 Z" fill="#a85a35" opacity="0.92"/>
<ellipse cx="202" cy="38" rx="2.5" ry="3.5" fill="#2a3a30" opacity="0.5" transform="rotate(0 202 38)"/>
<path d="M219.60,36.40 L226.73,36.00 L225.50,29.60 L230.00,32.24 L230.50,27.00 L232.79,32.24 L234.80,29.60 L235.07,34.28 L238.10,32.10 L236.84,38.00 L240.70,38.90 L239.12,42.08 L245.70,42.30 L239.12,44.76 L240.70,45.60 L238.69,47.75 L244.00,49.90 L238.33,51.15 L239.00,52.40 L236.49,54.95 L237.30,57.50 L234.97,60.00 L235.60,62.50 L233.14,63.75 L232.20,65.00 L231.37,64.60 L229.70,64.20 L231.25,59.15 L230.50,54.10 L231.23,50.70 L228.90,47.30 L228.74,46.12 L222.90,44.00 L225.95,43.44 L219.60,40.60 L224.96,40.40 Z" fill="url(#pg7)" opacity="0.8"/>
<path d="M232.73,49.96 Q231.66,41.85 225.69,34.00 Q227.45,43.70 232.73,49.96 Z" fill="#8aa030" opacity="0.9"/>
<path d="M234.04,48.97 Q234.24,39.60 229.50,29.30 Q229.75,40.63 234.04,48.97 Z" fill="#4a8a25" opacity="0.9"/>
<path d="M232.65,48.07 Q235.00,39.63 232.75,29.30 Q230.40,39.61 232.65,48.07 Z" fill="#4a8a25" opacity="0.9"/>
<path d="M234.15,49.66 Q237.01,41.81 235.41,31.85 Q232.43,41.48 234.15,49.66 Z" fill="#4a8a25" opacity="0.9"/>
<path d="M232.62,49.26 Q236.95,44.34 237.48,36.50 Q232.66,42.70 232.62,49.26 Z" fill="#4a8a25" opacity="0.9"/>
<path d="M232.90,48.88 Q237.79,47.22 240.14,41.60 Q234.53,43.98 232.90,48.88 Z" fill="#3f7a20" opacity="0.9"/>
<path d="M232.83,48.34 Q237.09,48.90 240.14,44.95 Q235.15,44.73 232.83,48.34 Z" fill="#224d14" opacity="0.9"/>
<path d="M232.55,60.13 Q235.82,59.62 236.90,55.95 Q233.19,56.88 232.55,60.13 Z" fill="#5a3040" opacity="0.9"/>
<path d="M232.32,63.00 Q230.08,63.46 231.26,65.60 Q233.60,64.88 232.32,63.00 Z" fill="#b0a050" opacity="0.9"/>
<path d="M232.91,49.26 Q230.61,44.72 224.78,43.30 Q227.89,48.43 232.91,49.26 Z" fill="#3f7a20" opacity="0.9"/>
<path d="M233.23,49.11 Q230.53,43.16 223.62,39.50 Q227.28,46.41 233.23,49.11 Z" fill="#8aa030" opacity="0.9"/>
<path d="M233.60,48.34 Q228.79,41.22 219.60,36.40 Q225.81,44.72 233.60,48.34 Z" fill="#3f7a20" opacity="1.0"/>
<path d="M233.99,48.30 Q232.26,38.93 225.50,29.60 Q228.08,40.84 233.99,48.30 Z" fill="#3f7a20" opacity="1.0"/>
<path d="M233.33,49.64 Q234.34,39.17 230.50,27.00 Q229.77,39.74 233.33,49.64 Z" fill="#3f7a20" opacity="1.0"/>
<path d="M232.99,49.62 Q236.09,40.82 234.80,29.60 Q231.51,40.41 232.99,49.62 Z" fill="#4a8a25" opacity="1.0"/>
<path d="M233.61,49.06 Q237.86,42.02 238.10,32.10 Q233.41,40.84 233.61,49.06 Z" fill="#2f6218" opacity="1.0"/>
<path d="M233.88,49.34 Q238.88,45.90 240.70,38.90 Q235.03,43.39 233.88,49.34 Z" fill="#2f6218" opacity="1.0"/>
<path d="M234.03,49.45 Q240.48,48.19 245.70,42.30 Q238.08,44.27 234.03,49.45 Z" fill="#224d14" opacity="1.0"/>
<path d="M233.13,48.52 Q237.36,49.35 240.70,45.60 Q235.71,45.06 233.13,48.52 Z" fill="#3f7a20" opacity="1.0"/>
<path d="M233.44,54.93 Q239.01,54.38 244.00,49.90 Q237.38,50.95 233.44,54.93 Z" fill="#a08080" opacity="1.0"/>
<path d="M234.02,57.15 Q237.57,56.39 239.00,52.40 Q234.95,53.64 234.02,57.15 Z" fill="#6a3a4a" opacity="1.0"/>
<path d="M232.23,61.80 Q235.74,61.31 237.30,57.50 Q233.28,58.42 232.23,61.80 Z" fill="#6a3a4a" opacity="1.0"/>
<path d="M231.44,63.00 Q233.54,64.66 235.60,62.50 Q233.09,60.89 231.44,63.00 Z" fill="#8a5a60" opacity="1.0"/>
<path d="M232.30,63.00 Q230.36,63.80 232.20,65.00 Q234.15,64.00 232.30,63.00 Z" fill="#8a5a60" opacity="1.0"/>
<path d="M231.53,63.00 Q229.67,61.95 229.70,64.20 Q231.75,65.13 231.53,63.00 Z" fill="#5a3040" opacity="1.0"/>
<path d="M232.55,58.49 Q233.35,55.71 230.50,54.10 Q229.90,57.32 232.55,58.49 Z" fill="#5a3040" opacity="1.0"/>
<path d="M232.58,48.12 Q231.34,45.90 228.90,47.30 Q230.51,49.61 232.58,48.12 Z" fill="#8a5a60" opacity="1.0"/>
<path d="M232.99,48.46 Q229.38,44.35 222.90,44.00 Q227.52,48.56 232.99,48.46 Z" fill="#224d14" opacity="1.0"/>
<path d="M233.09,49.75 Q228.31,43.73 219.60,40.60 Q225.73,47.54 233.09,49.75 Z" fill="#3f7a20" opacity="1.0"/>
<ellipse cx="239" cy="47" rx="4" ry="1.6" fill="#a8a048" opacity="0.85" transform="rotate(-25 239 47)"/>
<ellipse cx="238" cy="52" rx="3.5" ry="1.4" fill="#b0a060" opacity="0.85" transform="rotate(-30 238 52)"/>
<path d="M232.50,46.00 L232.52,47.42 L232.49,48.83 L232.42,50.25 L232.32,51.67 L232.21,53.08 L232.07,54.50 L231.60,55.92 L230.92,57.33 L230.24,58.75 L229.55,60.17 L228.84,61.58 L228.13,63.00 L235.88,63.00 L235.87,61.58 L235.87,60.17 L235.88,58.75 L235.91,57.33 L235.95,55.92 L235.82,54.50 L235.37,53.08 L234.94,51.67 L234.53,50.25 L234.14,48.83 L233.79,47.42 L233.50,46.00 Z" fill="#6a3a50" opacity="0.92"/>
<ellipse cx="231" cy="42" rx="3.5" ry="3" fill="#2a4a2a" opacity="0.5" transform="rotate(0 231 42)"/>
<path d="M252.20,37.20 L259.25,37.00 L257.30,31.30 L262.31,33.28 L262.40,27.90 L265.10,32.60 L266.60,29.60 L267.38,34.28 L270.00,32.10 L268.88,37.64 L271.60,38.00 L271.16,41.36 L277.60,41.40 L272.18,44.40 L275.00,45.60 L271.97,47.30 L276.70,49.00 L271.12,51.10 L271.60,53.20 L269.16,56.20 L270.00,59.20 L266.84,61.70 L265.70,64.20 L264.67,64.60 L263.20,65.00 L264.10,61.25 L263.20,57.50 L265.17,53.70 L264.90,49.90 L264.16,47.75 L260.70,45.60 L261.29,45.44 L255.60,44.00 L259.25,43.76 L253.90,41.40 L258.23,41.04 Z" fill="url(#pg8)" opacity="0.8"/>
<path d="M266.96,48.45 Q264.90,41.23 258.12,35.25 Q261.08,43.79 266.96,48.45 Z" fill="#4a8a25" opacity="0.9"/>
<path d="M266.78,48.05 Q266.70,39.55 261.69,30.60 Q262.29,40.84 266.78,48.05 Z" fill="#2f6218" opacity="0.9"/>
<path d="M265.59,49.36 Q267.60,40.46 264.95,29.75 Q263.00,40.61 265.59,49.36 Z" fill="#4a8a25" opacity="0.9"/>
<path d="M266.80,48.76 Q269.46,41.26 267.61,31.85 Q264.87,41.04 266.80,48.76 Z" fill="#8aa030" opacity="0.9"/>
<path d="M265.74,48.60 Q269.58,43.59 269.36,36.05 Q265.16,42.31 265.74,48.60 Z" fill="#8aa030" opacity="0.9"/>
<path d="M266.57,48.68 Q270.92,46.39 272.02,40.70 Q267.12,43.79 266.57,48.68 Z" fill="#8aa030" opacity="0.9"/>
<path d="M265.79,49.81 Q270.47,49.29 273.21,44.50 Q267.79,45.55 265.79,49.81 Z" fill="#2f6218" opacity="0.9"/>
<path d="M266.45,57.60 Q270.25,56.46 271.87,52.10 Q267.54,53.79 266.45,57.60 Z" fill="#5a3040" opacity="0.9"/>
<path d="M265.57,61.80 Q268.80,60.98 269.57,57.20 Q265.94,58.48 265.57,61.80 Z" fill="#a08080" opacity="0.9"/>
<path d="M266.53,49.28 Q264.97,45.72 260.50,45.80 Q262.67,49.70 266.53,49.28 Z" fill="#8aa030" opacity="0.9"/>
<path d="M266.10,48.90 Q263.77,44.63 258.12,43.70 Q261.26,48.49 266.10,48.90 Z" fill="#224d14" opacity="0.9"/>
<path d="M266.36,48.71 Q263.65,43.21 256.94,40.30 Q260.59,46.64 266.36,48.71 Z" fill="#4a8a25" opacity="0.9"/>
<path d="M265.93,49.10 Q261.26,42.01 252.20,37.20 Q258.25,45.49 265.93,49.10 Z" fill="#4a8a25" opacity="1.0"/>
<path d="M266.43,48.45 Q264.35,39.65 257.30,31.30 Q260.29,41.81 266.43,48.45 Z" fill="#3f7a20" opacity="1.0"/>
<path d="M266.40,49.25 Q266.86,39.22 262.40,27.90 Q262.34,40.07 266.40,49.25 Z" fill="#8aa030" opacity="1.0"/>
<path d="M265.70,49.84 Q268.40,40.84 266.60,29.60 Q263.81,40.63 265.70,49.84 Z" fill="#2f6218" opacity="1.0"/>
<path d="M266.54,48.63 Q270.35,41.66 270.00,32.10 Q265.85,40.72 266.54,48.63 Z" fill="#8aa030" opacity="1.0"/>
<path d="M265.70,48.79 Q270.37,45.04 271.60,38.00 Q266.34,42.83 265.70,48.79 Z" fill="#8aa030" opacity="1.0"/>
<path d="M266.90,48.91 Q273.04,47.41 277.60,41.40 Q270.40,43.65 266.90,48.91 Z" fill="#3f7a20" opacity="1.0"/>
<path d="M265.62,49.13 Q270.65,49.69 275.00,45.60 Q269.03,45.39 265.62,49.13 Z" fill="#4a8a25" opacity="1.0"/>
<path d="M266.56,53.96 Q271.95,53.43 276.70,49.00 Q270.29,50.02 266.56,53.96 Z" fill="#5a3040" opacity="1.0"/>
<path d="M266.04,59.06 Q269.92,57.73 271.60,53.20 Q267.16,55.11 266.04,59.06 Z" fill="#5a3040" opacity="1.0"/>
<path d="M264.36,63.00 Q267.96,62.87 270.00,59.20 Q265.84,59.71 264.36,63.00 Z" fill="#5a3040" opacity="1.0"/>
<path d="M264.97,63.00 Q263.68,64.53 265.70,64.20 Q266.92,62.55 264.97,63.00 Z" fill="#6a3a4a" opacity="1.0"/>
<path d="M264.46,63.00 Q262.29,62.89 263.20,65.00 Q265.50,64.91 264.46,63.00 Z" fill="#8a5a60" opacity="1.0"/>
<path d="M265.43,61.96 Q266.13,59.10 263.20,57.50 Q262.73,60.80 265.43,61.96 Z" fill="#6a3a4a" opacity="1.0"/>
<path d="M266.58,55.53 Q267.64,52.46 264.90,49.90 Q264.00,53.54 266.58,55.53 Z" fill="#5a3040" opacity="1.0"/>
<path d="M265.62,48.02 Q264.42,44.87 260.70,45.60 Q262.39,48.99 265.62,48.02 Z" fill="#224d14" opacity="1.0"/>
<path d="M267.00,48.09 Q262.65,44.09 255.60,44.00 Q261.09,48.42 267.00,48.09 Z" fill="#2f6218" opacity="1.0"/>
<path d="M266.60,48.67 Q262.03,43.40 253.90,41.40 Q259.74,47.39 266.60,48.67 Z" fill="#4a8a25" opacity="1.0"/>
<ellipse cx="272" cy="46" rx="4" ry="1.6" fill="#b8b060" opacity="0.85" transform="rotate(-25 272 46)"/>
<ellipse cx="271" cy="51" rx="3.5" ry="1.4" fill="#b8a870" opacity="0.85" transform="rotate(-30 271 51)"/>
<path d="M265.50,46.00 L265.52,47.42 L265.49,48.83 L265.42,50.25 L265.32,51.67 L265.21,53.08 L265.07,54.50 L264.60,55.92 L263.92,57.33 L263.24,58.75 L262.55,60.17 L261.84,61.58 L261.13,63.00 L268.88,63.00 L268.87,61.58 L268.87,60.17 L268.88,58.75 L268.91,57.33 L268.95,55.92 L268.82,54.50 L268.37,53.08 L267.94,51.67 L267.53,50.25 L267.14,48.83 L266.79,47.42 L266.50,46.00 Z" fill="#6a3a50" opacity="0.92"/>
<ellipse cx="265" cy="43" rx="3.5" ry="3" fill="#2a3a2a" opacity="0.5" transform="rotate(0 265 43)"/>
<path d="M283.50,36.40 L290.67,35.48 L289.40,28.80 L293.70,31.40 L293.60,26.20 L296.49,32.04 L298.70,30.40 L299.01,35.08 L302.00,33.80 L300.51,38.80 L303.70,39.70 L302.31,42.52 L308.00,43.10 L302.58,45.24 L304.60,46.50 L301.96,48.60 L305.40,50.70 L301.35,52.40 L302.00,54.10 L299.51,57.05 L300.40,60.00 L297.07,62.10 L296.10,64.20 L294.91,64.20 L293.60,64.20 L294.83,60.00 L294.50,55.80 L295.56,52.40 L293.60,49.00 L293.51,46.90 L288.50,44.80 L290.64,44.24 L284.30,42.30 L289.14,40.88 Z" fill="url(#pg9)" opacity="0.8"/>
<path d="M297.13,47.14 Q295.76,39.93 289.62,33.60 Q291.74,42.16 297.13,47.14 Z" fill="#3f7a20" opacity="0.9"/>
<path d="M297.07,48.57 Q297.56,39.10 293.15,28.50 Q293.05,39.98 297.07,48.57 Z" fill="#8aa030" opacity="0.9"/>
<path d="M297.83,47.19 Q299.48,38.96 296.40,29.30 Q294.90,39.32 297.83,47.19 Z" fill="#4a8a25" opacity="0.9"/>
<path d="M297.30,47.37 Q300.50,41.27 299.35,33.10 Q295.94,40.62 297.30,47.37 Z" fill="#2f6218" opacity="0.9"/>
<path d="M297.75,48.43 Q301.45,44.31 301.10,37.75 Q297.06,42.94 297.75,48.43 Z" fill="#4a8a25" opacity="0.9"/>
<path d="M297.32,48.46 Q301.61,47.33 303.19,42.40 Q298.31,44.13 297.32,48.46 Z" fill="#8aa030" opacity="0.9"/>
<path d="M296.68,57.81 Q300.27,57.28 301.94,53.40 Q297.82,54.37 296.68,57.81 Z" fill="#5a3040" opacity="0.9"/>
<path d="M294.77,63.00 Q292.93,64.10 294.90,65.20 Q296.72,63.88 294.77,63.00 Z" fill="#6a3a4a" opacity="0.9"/>
<path d="M297.29,48.70 Q294.91,44.80 289.58,44.55 Q292.73,48.86 297.29,48.70 Z" fill="#4a8a25" opacity="0.9"/>
<path d="M297.87,48.64 Q294.82,43.14 287.83,40.35 Q291.89,46.69 297.87,48.64 Z" fill="#3f7a20" opacity="0.9"/>
<path d="M297.93,47.37 Q292.83,40.60 283.50,36.40 Q290.05,44.26 297.93,47.37 Z" fill="#224d14" opacity="1.0"/>
<path d="M297.06,48.65 Q295.76,38.89 289.40,28.80 Q291.47,40.54 297.06,48.65 Z" fill="#224d14" opacity="1.0"/>
<path d="M297.28,48.16 Q297.90,37.90 293.60,26.20 Q293.36,38.66 297.28,48.16 Z" fill="#2f6218" opacity="1.0"/>
<path d="M297.57,48.22 Q300.37,40.35 298.70,30.40 Q295.78,40.05 297.57,48.22 Z" fill="#224d14" opacity="1.0"/>
<path d="M296.66,47.66 Q301.21,42.25 302.00,33.80 Q296.92,40.60 296.66,47.66 Z" fill="#2f6218" opacity="1.0"/>
<path d="M297.19,48.63 Q301.98,45.97 303.70,39.70 Q298.26,43.26 297.19,48.63 Z" fill="#2f6218" opacity="1.0"/>
<path d="M296.46,47.03 Q302.40,47.44 308.00,43.10 Q300.91,43.09 296.46,47.03 Z" fill="#3f7a20" opacity="1.0"/>
<path d="M297.60,48.10 Q301.17,49.23 304.60,46.50 Q300.33,45.53 297.60,48.10 Z" fill="#8a5a60" opacity="1.0"/>
<path d="M296.62,56.23 Q301.58,55.35 305.40,50.70 Q299.56,52.14 296.62,56.23 Z" fill="#b0a050" opacity="1.0"/>
<path d="M295.93,58.30 Q299.74,57.97 302.00,54.10 Q297.58,54.85 295.93,58.30 Z" fill="#b0a050" opacity="1.0"/>
<path d="M295.52,63.00 Q298.71,63.27 300.40,60.00 Q296.72,60.03 295.52,63.00 Z" fill="#a08080" opacity="1.0"/>
<path d="M295.73,63.00 Q294.08,64.10 296.10,64.20 Q297.71,62.98 295.73,63.00 Z" fill="#6a3a4a" opacity="1.0"/>
<path d="M295.27,63.00 Q293.41,62.00 293.60,64.20 Q295.63,65.08 295.27,63.00 Z" fill="#8a5a60" opacity="1.0"/>
<path d="M295.39,61.75 Q296.87,58.79 294.50,55.80 Q293.11,59.35 295.39,61.75 Z" fill="#8a5a60" opacity="1.0"/>
<path d="M298.46,54.21 Q297.66,50.57 293.60,49.00 Q294.89,53.16 298.46,54.21 Z" fill="#b0a050" opacity="1.0"/>
<path d="M297.01,48.41 Q294.08,44.67 288.50,44.80 Q292.28,48.90 297.01,48.41 Z" fill="#2f6218" opacity="1.0"/>
<path d="M297.97,47.69 Q292.66,43.12 284.30,42.30 Q290.97,47.40 297.97,47.69 Z" fill="#4a8a25" opacity="1.0"/>
<ellipse cx="303" cy="46" rx="4" ry="1.6" fill="#b8b060" opacity="0.85" transform="rotate(-25 303 46)"/>
<ellipse cx="302" cy="51" rx="3.5" ry="1.4" fill="#b8a870" opacity="0.85" transform="rotate(-30 302 51)"/>
<path d="M296.50,45.00 L296.53,46.50 L296.50,48.00 L296.44,49.50 L296.36,51.00 L296.25,52.50 L296.13,54.00 L295.33,55.50 L294.51,57.00 L293.68,58.50 L292.84,60.00 L291.99,61.50 L291.13,63.00 L298.88,63.00 L299.01,61.50 L299.16,60.00 L299.32,58.50 L299.49,57.00 L299.67,55.50 L299.87,54.00 L299.41,52.50 L298.98,51.00 L298.56,49.50 L298.16,48.00 L297.80,46.50 L297.50,45.00 Z" fill="#6a3a50" opacity="0.92"/>
<ellipse cx="296" cy="42" rx="3.5" ry="3" fill="#2a3a2a" opacity="0.5" transform="rotate(0 296 42)"/>
<path d="M317.90,33.80 L322.80,32.68 L322.10,27.90 L325.59,29.32 L327.20,25.40 L328.65,28.96 L332.30,27.00 L331.44,31.32 L336.50,31.30 L332.94,35.40 L337.30,37.20 L332.38,38.90 L334.80,40.60 L332.41,43.10 L338.20,45.60 L332.36,48.15 L335.60,50.70 L330.79,53.25 L334.00,55.80 L328.92,58.35 L330.60,60.90 L326.30,62.95 L326.40,65.00 L324.02,64.60 L323.00,64.20 L322.38,60.85 L320.40,57.50 L321.79,54.95 L319.60,52.40 L321.69,49.00 L318.80,45.60 L321.52,43.10 L317.90,40.60 L321.54,37.76 Z" fill="url(#pg10)" opacity="0.8"/>
<path d="M326.64,40.56 Q327.08,35.35 322.10,31.85 Q322.11,37.93 326.64,40.56 Z" fill="#4a9a28" opacity="0.9"/>
<path d="M326.72,40.92 Q328.89,34.66 325.35,27.65 Q323.32,35.24 326.72,40.92 Z" fill="#6ab030" opacity="0.9"/>
<path d="M326.60,40.81 Q330.41,35.16 328.93,27.20 Q324.89,34.21 326.60,40.81 Z" fill="#6ab030" opacity="0.9"/>
<path d="M326.29,40.22 Q331.36,37.10 332.18,30.15 Q326.52,34.28 326.29,40.22 Z" fill="#3a8a20" opacity="0.9"/>
<path d="M326.69,40.83 Q331.66,40.54 333.93,35.25 Q328.24,36.10 326.69,40.83 Z" fill="#6ab030" opacity="0.9"/>
<path d="M326.45,41.11 Q330.02,43.32 333.30,39.90 Q329.05,37.81 326.45,41.11 Z" fill="#3a8a20" opacity="0.9"/>
<path d="M324.19,59.85 Q328.74,58.86 331.79,54.25 Q326.48,55.80 324.19,59.85 Z" fill="#8a7a40" opacity="0.9"/>
<path d="M323.59,63.00 Q327.33,62.99 329.76,59.35 Q325.40,59.72 323.59,63.00 Z" fill="#6a3050" opacity="0.9"/>
<path d="M323.68,63.00 Q324.56,65.25 326.85,63.95 Q325.66,61.61 323.68,63.00 Z" fill="#5a3048" opacity="0.9"/>
<path d="M322.33,63.00 Q324.16,62.28 322.21,61.85 Q320.39,62.69 322.33,63.00 Z" fill="#8a7a40" opacity="0.9"/>
<path d="M323.25,61.06 Q324.17,58.10 321.34,55.95 Q320.61,59.43 323.25,61.06 Z" fill="#9a8a40" opacity="0.9"/>
<path d="M327.14,40.86 Q325.27,37.07 320.63,38.20 Q323.15,42.25 327.14,40.86 Z" fill="#3a8a20" opacity="0.9"/>
<path d="M326.08,40.72 Q324.21,35.47 317.90,33.80 Q320.59,39.75 326.08,40.72 Z" fill="#6ab030" opacity="1.0"/>
<path d="M326.27,40.19 Q327.05,33.76 322.10,27.90 Q321.74,35.56 326.27,40.19 Z" fill="#3a8a20" opacity="1.0"/>
<path d="M326.56,41.63 Q329.65,34.43 327.20,25.40 Q324.05,34.21 326.56,41.63 Z" fill="#2a6a18" opacity="1.0"/>
<path d="M326.33,41.71 Q331.61,36.14 332.30,27.00 Q326.42,34.04 326.33,41.71 Z" fill="#6ab030" opacity="1.0"/>
<path d="M325.94,40.16 Q332.50,38.32 336.50,31.30 Q328.89,34.03 325.94,40.16 Z" fill="#3a8a20" opacity="1.0"/>
<path d="M326.90,40.21 Q332.36,41.54 337.30,37.20 Q330.80,36.17 326.90,40.21 Z" fill="#2a6a18" opacity="1.0"/>
<path d="M325.98,45.67 Q331.34,45.82 334.80,40.60 Q328.55,40.96 325.98,45.67 Z" fill="#3a8a20" opacity="1.0"/>
<path d="M324.88,50.88 Q331.57,50.27 338.20,45.60 Q330.17,46.74 324.88,50.88 Z" fill="#8a7a40" opacity="1.0"/>
<path d="M324.83,54.92 Q330.37,54.79 335.60,50.70 Q328.98,51.25 324.83,54.92 Z" fill="#8a7a40" opacity="1.0"/>
<path d="M323.96,61.54 Q329.42,60.61 334.00,55.80 Q327.53,57.31 323.96,61.54 Z" fill="#8a7a40" opacity="1.0"/>
<path d="M323.29,63.00 Q327.10,63.88 330.60,60.90 Q326.05,60.23 323.29,63.00 Z" fill="#5a3048" opacity="1.0"/>
<path d="M322.85,63.00 Q323.51,65.56 326.40,65.00 Q325.38,62.24 322.85,63.00 Z" fill="#8a7a40" opacity="1.0"/>
<path d="M323.61,63.00 Q321.65,62.67 323.00,64.20 Q325.03,64.41 323.61,63.00 Z" fill="#8a7a40" opacity="1.0"/>
<path d="M323.84,62.56 Q323.86,59.21 320.40,57.50 Q320.72,61.35 323.84,62.56 Z" fill="#9a8a40" opacity="1.0"/>
<path d="M323.96,56.67 Q323.33,53.39 319.60,52.40 Q320.67,56.11 323.96,56.67 Z" fill="#7a5a40" opacity="1.0"/>
<path d="M325.17,49.82 Q323.35,46.34 318.80,45.60 Q321.25,49.50 325.17,49.82 Z" fill="#5a3048" opacity="1.0"/>
<path d="M325.46,45.35 Q323.55,40.84 317.90,40.60 Q320.57,45.59 325.46,45.35 Z" fill="#6ab030" opacity="1.0"/>
<ellipse cx="333" cy="47" rx="4" ry="1.6" fill="#a09a40" opacity="0.85" transform="rotate(-25 333 47)"/>
<ellipse cx="332" cy="54" rx="3.5" ry="1.4" fill="#9a8a50" opacity="0.85" transform="rotate(-30 332 54)"/>
<ellipse cx="320" cy="48" rx="3" ry="1.3" fill="#9a9040" opacity="0.85" transform="rotate(-150 320 48)"/>
<path d="M326.50,38.00 L326.10,40.08 L325.65,42.17 L325.17,44.25 L324.68,46.33 L324.17,48.42 L323.65,50.50 L323.09,52.58 L322.47,54.67 L321.83,56.75 L321.19,58.83 L320.53,60.92 L319.88,63.00 L326.13,63.00 L326.22,60.92 L326.33,58.83 L326.44,56.75 L326.56,54.67 L326.70,52.58 L326.78,50.50 L326.85,48.42 L326.94,46.33 L327.04,44.25 L327.16,42.17 L327.31,40.08 L327.50,38.00 Z" fill="#6a3050" opacity="0.92"/>
<ellipse cx="327" cy="37" rx="3" ry="2.5" fill="#3a5a2a" opacity="0.5" transform="rotate(0 327 37)"/>
<path d="M347.60,32.10 L351.98,31.84 L351.00,27.00 L354.26,29.16 L355.20,25.40 L357.05,28.84 L360.30,26.20 L359.57,30.84 L363.60,30.40 L361.07,34.56 L365.30,35.50 L360.83,37.96 L362.80,38.90 L361.61,40.60 L367.90,42.30 L362.87,44.80 L367.00,47.30 L361.58,49.45 L363.60,51.60 L359.99,54.55 L362.00,57.50 L358.29,60.00 L358.60,62.50 L356.14,64.20 L355.20,65.90 L354.37,65.05 L352.70,64.20 L352.89,61.70 L350.10,59.20 L352.05,56.65 L349.30,54.10 L352.49,50.70 L351.00,47.30 L352.22,44.80 L348.40,42.30 L350.42,39.75 L345.00,37.20 L350.18,35.92 Z" fill="url(#pg11)" opacity="0.8"/>
<path d="M356.07,41.54 Q356.50,35.48 351.31,30.55 Q351.36,37.71 356.07,41.54 Z" fill="#68c030" opacity="0.9"/>
<path d="M356.05,41.74 Q357.89,34.80 353.97,27.20 Q352.34,35.59 356.05,41.74 Z" fill="#2a7018" opacity="0.9"/>
<path d="M356.42,41.05 Q359.58,34.80 357.23,26.80 Q353.99,34.48 356.42,41.05 Z" fill="#68c030" opacity="0.9"/>
<path d="M356.70,42.86 Q360.97,37.45 360.17,29.30 Q355.55,36.06 356.70,42.86 Z" fill="#4aa828" opacity="0.9"/>
<path d="M355.47,41.78 Q360.53,40.04 361.92,33.95 Q356.21,36.48 355.47,41.78 Z" fill="#4aa828" opacity="0.9"/>
<path d="M356.19,41.29 Q360.03,42.33 361.63,38.20 Q357.26,37.46 356.19,41.29 Z" fill="#3a9020" opacity="0.9"/>
<path d="M355.77,46.06 Q360.36,46.39 362.55,41.60 Q357.28,41.72 355.77,46.06 Z" fill="#3a9020" opacity="0.9"/>
<path d="M355.31,56.45 Q359.76,55.21 362.51,50.45 Q357.33,52.29 355.31,56.45 Z" fill="#7a5a48" opacity="0.9"/>
<path d="M354.95,59.85 Q358.67,59.44 360.69,55.55 Q356.39,56.39 354.95,59.85 Z" fill="#5a3050" opacity="0.9"/>
<path d="M354.70,63.00 Q357.38,63.81 358.79,61.00 Q355.71,60.39 354.70,63.00 Z" fill="#8a7a40" opacity="0.9"/>
<path d="M355.27,63.00 Q354.24,60.98 352.52,62.70 Q353.83,64.75 355.27,63.00 Z" fill="#7a5a48" opacity="0.9"/>
<path d="M356.78,42.96 Q354.31,39.28 349.49,40.75 Q352.69,44.64 356.78,42.96 Z" fill="#68c030" opacity="0.9"/>
<path d="M356.66,42.71 Q355.23,37.50 349.21,35.65 Q351.38,41.56 356.66,42.71 Z" fill="#68c030" opacity="0.9"/>
<path d="M355.45,41.84 Q354.10,35.70 347.60,32.10 Q349.74,39.21 355.45,41.84 Z" fill="#68c030" opacity="1.0"/>
<path d="M355.43,41.75 Q356.12,34.31 351.00,27.00 Q350.76,35.92 355.43,41.75 Z" fill="#4aa828" opacity="1.0"/>
<path d="M355.44,41.15 Q358.13,34.02 355.20,25.40 Q352.53,34.10 355.44,41.15 Z" fill="#68c030" opacity="1.0"/>
<path d="M356.01,42.52 Q360.65,35.89 360.30,26.20 Q355.23,34.46 356.01,42.52 Z" fill="#2a7018" opacity="1.0"/>
<path d="M356.05,42.58 Q361.83,38.57 363.60,30.40 Q357.07,35.62 356.05,42.58 Z" fill="#68c030" opacity="1.0"/>
<path d="M356.78,41.38 Q362.21,41.04 365.30,35.50 Q359.02,36.43 356.78,41.38 Z" fill="#3a9020" opacity="1.0"/>
<path d="M356.49,42.13 Q360.61,43.17 362.80,38.90 Q358.05,38.19 356.49,42.13 Z" fill="#68c030" opacity="1.0"/>
<path d="M355.39,47.41 Q361.74,46.87 367.90,42.30 Q360.30,43.35 355.39,47.41 Z" fill="#7a5a48" opacity="1.0"/>
<path d="M355.82,51.88 Q361.57,51.58 367.00,47.30 Q360.13,48.06 355.82,51.88 Z" fill="#7a5a48" opacity="1.0"/>
<path d="M355.97,56.09 Q360.36,55.71 363.60,51.60 Q358.44,52.43 355.97,56.09 Z" fill="#7a5a48" opacity="1.0"/>
<path d="M355.17,62.19 Q359.32,61.65 362.00,57.50 Q357.17,58.51 355.17,62.19 Z" fill="#6a3058" opacity="1.0"/>
<path d="M354.67,63.00 Q356.68,64.66 358.60,62.50 Q356.20,60.89 354.67,63.00 Z" fill="#6a3058" opacity="1.0"/>
<path d="M355.58,63.00 Q353.53,64.06 355.20,65.90 Q357.29,64.55 355.58,63.00 Z" fill="#7a5a48" opacity="1.0"/>
<path d="M354.44,63.00 Q352.58,61.98 352.70,64.20 Q354.74,65.10 354.44,63.00 Z" fill="#8a7a40" opacity="1.0"/>
<path d="M355.60,63.00 Q354.20,59.73 350.10,59.20 Q352.04,62.85 355.60,63.00 Z" fill="#9a8a40" opacity="1.0"/>
<path d="M356.14,58.63 Q354.11,55.01 349.30,54.10 Q352.02,58.18 356.14,58.63 Z" fill="#7a5a48" opacity="1.0"/>
<path d="M356.25,52.87 Q355.27,49.06 351.00,47.30 Q352.50,51.67 356.25,52.87 Z" fill="#9a8a40" opacity="1.0"/>
<path d="M356.56,46.67 Q353.79,43.03 348.40,42.30 Q351.99,46.38 356.56,46.67 Z" fill="#7a5a48" opacity="1.0"/>
<path d="M356.27,41.40 Q352.18,36.88 345.00,37.20 Q350.22,42.13 356.27,41.40 Z" fill="#4aa828" opacity="1.0"/>
<ellipse cx="363" cy="45" rx="4" ry="1.6" fill="#a09a40" opacity="0.85" transform="rotate(-25 363 45)"/>
<ellipse cx="362" cy="52" rx="3.5" ry="1.4" fill="#9a8a50" opacity="0.85" transform="rotate(-30 362 52)"/>
<path d="M355.50,39.00 L355.39,41.00 L355.22,43.00 L355.03,45.00 L354.82,47.00 L354.59,49.00 L354.34,51.00 L353.99,53.00 L353.54,55.00 L353.08,57.00 L352.62,59.00 L352.14,61.00 L351.65,63.00 L358.35,63.00 L358.23,61.00 L358.11,59.00 L358.01,57.00 L357.91,55.00 L357.82,53.00 L357.66,51.00 L357.41,49.00 L357.18,47.00 L356.97,45.00 L356.78,43.00 L356.61,41.00 L356.50,39.00 Z" fill="#5a2a50" opacity="0.92"/>
<ellipse cx="355" cy="38" rx="3" ry="2.5" fill="#2a4a2a" opacity="0.5" transform="rotate(0 355 38)"/>
<path d="M373.80,34.70 L378.74,32.68 L378.00,27.00 L381.53,28.96 L383.10,25.40 L384.32,29.32 L387.30,27.90 L386.60,32.36 L390.70,33.00 L387.11,36.08 L389.00,37.20 L388.14,39.30 L394.00,41.40 L390.54,43.50 L396.60,45.60 L390.67,48.15 L394.00,50.70 L389.01,53.25 L390.70,55.80 L387.51,58.35 L389.00,60.90 L385.74,62.95 L384.80,65.00 L383.46,64.60 L381.40,64.20 L381.93,60.85 L379.70,57.50 L380.91,54.10 L378.00,50.70 L380.54,47.35 L378.90,44.00 L379.88,42.30 L376.30,40.60 L378.23,38.12 Z" fill="url(#pg12)" opacity="0.8"/>
<path d="M382.67,40.29 Q383.03,35.15 378.03,31.85 Q378.13,37.84 382.67,40.29 Z" fill="#4aa828" opacity="0.9"/>
<path d="M382.92,40.56 Q384.96,34.21 381.29,27.20 Q379.40,34.89 382.92,40.56 Z" fill="#2a7018" opacity="0.9"/>
<path d="M383.92,41.76 Q387.00,35.53 384.54,27.65 Q381.40,35.29 383.92,41.76 Z" fill="#2a7018" opacity="0.9"/>
<path d="M382.96,40.03 Q387.38,37.41 387.20,31.45 Q382.36,34.93 382.96,40.03 Z" fill="#4aa828" opacity="0.9"/>
<path d="M383.28,41.67 Q387.49,40.93 387.80,36.10 Q383.14,37.40 383.28,41.67 Z" fill="#4aa828" opacity="0.9"/>
<path d="M383.08,45.82 Q387.65,45.38 388.98,40.30 Q383.82,41.29 383.08,45.82 Z" fill="#3a9020" opacity="0.9"/>
<path d="M383.87,54.54 Q388.52,53.69 391.83,49.15 Q386.38,50.54 383.87,54.54 Z" fill="#9a8a40" opacity="0.9"/>
<path d="M384.24,58.90 Q387.98,58.27 389.85,54.25 Q385.55,55.34 384.24,58.90 Z" fill="#9a8a40" opacity="0.9"/>
<path d="M384.53,63.00 Q383.90,60.71 381.58,61.85 Q382.52,64.25 384.53,63.00 Z" fill="#5a3050" opacity="0.9"/>
<path d="M383.96,61.02 Q383.98,57.38 380.40,55.10 Q380.73,59.34 383.96,61.02 Z" fill="#7a5a48" opacity="0.9"/>
<path d="M383.06,48.73 Q382.94,45.20 379.31,43.30 Q379.81,47.36 383.06,48.73 Z" fill="#8a7a40" opacity="0.9"/>
<path d="M382.88,41.26 Q381.64,37.56 377.44,38.65 Q379.22,42.61 382.88,41.26 Z" fill="#2a7018" opacity="0.9"/>
<path d="M383.89,41.54 Q380.92,36.15 373.80,34.70 Q377.78,40.78 383.89,41.54 Z" fill="#3a9020" opacity="1.0"/>
<path d="M382.88,40.76 Q383.32,33.63 378.00,27.00 Q378.05,35.51 382.88,40.76 Z" fill="#3a9020" opacity="1.0"/>
<path d="M383.80,41.14 Q386.28,33.93 383.10,25.40 Q380.69,34.18 383.80,41.14 Z" fill="#3a9020" opacity="1.0"/>
<path d="M382.74,41.31 Q387.45,36.18 387.30,27.90 Q382.14,34.37 382.74,41.31 Z" fill="#4aa828" opacity="1.0"/>
<path d="M382.82,40.09 Q388.24,38.98 390.70,33.00 Q384.49,34.81 382.82,40.09 Z" fill="#2a7018" opacity="1.0"/>
<path d="M383.24,40.44 Q387.20,41.42 389.00,37.20 Q384.46,36.54 383.24,40.44 Z" fill="#68c030" opacity="1.0"/>
<path d="M383.08,46.96 Q388.86,46.15 394.00,41.40 Q387.13,42.77 383.08,46.96 Z" fill="#5a3050" opacity="1.0"/>
<path d="M384.04,50.10 Q390.33,49.86 396.60,45.60 Q389.05,46.29 384.04,50.10 Z" fill="#6a3058" opacity="1.0"/>
<path d="M384.29,56.66 Q389.65,55.60 394.00,50.70 Q387.66,52.36 384.29,56.66 Z" fill="#8a7a40" opacity="1.0"/>
<path d="M383.43,61.65 Q387.89,60.50 390.70,55.80 Q385.51,57.54 383.43,61.65 Z" fill="#5a3050" opacity="1.0"/>
<path d="M383.40,63.00 Q386.59,63.83 389.00,60.90 Q385.26,60.28 383.40,63.00 Z" fill="#7a5a48" opacity="1.0"/>
<path d="M383.53,63.00 Q382.50,64.92 384.80,65.00 Q385.71,62.88 383.53,63.00 Z" fill="#6a3058" opacity="1.0"/>
<path d="M384.68,63.00 Q382.55,61.76 381.40,64.20 Q383.86,65.32 384.68,63.00 Z" fill="#5a3050" opacity="1.0"/>
<path d="M383.90,61.59 Q383.33,58.39 379.70,57.50 Q380.68,61.11 383.90,61.59 Z" fill="#7a5a48" opacity="1.0"/>
<path d="M384.51,55.07 Q382.64,51.53 378.00,50.70 Q380.52,54.68 384.51,55.07 Z" fill="#6a3058" opacity="1.0"/>
<path d="M383.67,49.27 Q382.93,45.62 378.90,44.00 Q380.11,48.17 383.67,49.27 Z" fill="#9a8a40" opacity="1.0"/>
<path d="M384.17,45.88 Q382.19,41.18 376.30,40.60 Q379.07,45.83 384.17,45.88 Z" fill="#68c030" opacity="1.0"/>
<ellipse cx="391" cy="46" rx="4" ry="1.6" fill="#a09a40" opacity="0.85" transform="rotate(-25 391 46)"/>
<ellipse cx="390" cy="53" rx="3.5" ry="1.4" fill="#9a8a50" opacity="0.85" transform="rotate(-30 390 53)"/>
<path d="M382.50,38.00 L382.54,40.08 L382.52,42.17 L382.48,44.25 L382.41,46.33 L382.33,48.42 L382.24,50.50 L382.09,52.58 L381.82,54.67 L381.54,56.75 L381.25,58.83 L380.95,60.92 L380.65,63.00 L387.35,63.00 L387.05,60.92 L386.75,58.83 L386.46,56.75 L386.18,54.67 L385.91,52.58 L385.55,50.50 L385.16,48.42 L384.78,46.33 L384.42,44.25 L384.08,42.17 L383.76,40.08 L383.50,38.00 Z" fill="#5a2a50" opacity="0.92"/>
<ellipse cx="383" cy="38" rx="3" ry="2.5" fill="#2a4a2a" opacity="0.5" transform="rotate(0 383 38)"/>
</g>
<rect x="20.8" y="21.9" width="378.0" height="48" fill="none" stroke="#333" stroke-width="1.1"/>
<line x1="50.8" y1="21.9" x2="50.8" y2="69.9" stroke="#333" stroke-width="1.1"/>
<line x1="82" y1="21.9" x2="82" y2="69.9" stroke="#333" stroke-width="1.1"/>
<line x1="112.5" y1="21.9" x2="112.5" y2="69.9" stroke="#333" stroke-width="1.1"/>
<line x1="139" y1="21.9" x2="139" y2="69.9" stroke="#333" stroke-width="1.1"/>
<line x1="164.3" y1="21.9" x2="164.3" y2="69.9" stroke="#333" stroke-width="1.1"/>
<line x1="190.7" y1="21.9" x2="190.7" y2="69.9" stroke="#333" stroke-width="1.1"/>
<line x1="215.6" y1="21.9" x2="215.6" y2="69.9" stroke="#333" stroke-width="1.1"/>
<line x1="249.2" y1="21.9" x2="249.2" y2="69.9" stroke="#333" stroke-width="1.1"/>
<line x1="281" y1="21.9" x2="281" y2="69.9" stroke="#333" stroke-width="1.1"/>
<line x1="312.9" y1="21.9" x2="312.9" y2="69.9" stroke="#333" stroke-width="1.1"/>
<line x1="341.6" y1="21.9" x2="341.6" y2="69.9" stroke="#333" stroke-width="1.1"/>
<line x1="371" y1="21.9" x2="371" y2="69.9" stroke="#333" stroke-width="1.1"/>
<line x1="389.6" y1="66.7" x2="397.2" y2="66.7" stroke="#111" stroke-width="1.3"/>
<text x="0.4" y="82.8" font-size="7" text-anchor="start" font-weight="bold" fill="#111" >B</text>
<line x1="21.5" y1="88.2" x2="21.5" y2="174.2" stroke="#3a3a3a" stroke-width="0.9"/>
<line x1="21.5" y1="174.2" x2="118" y2="174.2" stroke="#3a3a3a" stroke-width="0.9"/>
<line x1="20.2" y1="88.6" x2="21.5" y2="88.6" stroke="#3a3a3a" stroke-width="0.8"/>
<text x="19.1" y="90.8" font-size="6.0" text-anchor="end" font-weight="bold" fill="#111" >3</text>
<line x1="20.2" y1="117" x2="21.5" y2="117" stroke="#3a3a3a" stroke-width="0.8"/>
<text x="19.1" y="119.2" font-size="6.0" text-anchor="end" font-weight="bold" fill="#111" >2</text>
<line x1="20.2" y1="145.5" x2="21.5" y2="145.5" stroke="#3a3a3a" stroke-width="0.8"/>
<text x="19.1" y="147.7" font-size="6.0" text-anchor="end" font-weight="bold" fill="#111" >1</text>
<line x1="20.2" y1="174.2" x2="21.5" y2="174.2" stroke="#3a3a3a" stroke-width="0.8"/>
<text x="19.1" y="176.39999999999998" font-size="6.0" text-anchor="end" font-weight="bold" fill="#111" >0</text>
<line x1="27.4" y1="174.2" x2="27.4" y2="175.5" stroke="#3a3a3a" stroke-width="0.8"/>
<line x1="36.8" y1="174.2" x2="36.8" y2="175.5" stroke="#3a3a3a" stroke-width="0.8"/>
<line x1="46.2" y1="174.2" x2="46.2" y2="175.5" stroke="#3a3a3a" stroke-width="0.8"/>
<line x1="55.7" y1="174.2" x2="55.7" y2="175.5" stroke="#3a3a3a" stroke-width="0.8"/>
<line x1="65.1" y1="174.2" x2="65.1" y2="175.5" stroke="#3a3a3a" stroke-width="0.8"/>
<line x1="74.4" y1="174.2" x2="74.4" y2="175.5" stroke="#3a3a3a" stroke-width="0.8"/>
<line x1="83.7" y1="174.2" x2="83.7" y2="175.5" stroke="#3a3a3a" stroke-width="0.8"/>
<line x1="93.1" y1="174.2" x2="93.1" y2="175.5" stroke="#3a3a3a" stroke-width="0.8"/>
<line x1="102.5" y1="174.2" x2="102.5" y2="175.5" stroke="#3a3a3a" stroke-width="0.8"/>
<line x1="111.9" y1="174.2" x2="111.9" y2="175.5" stroke="#3a3a3a" stroke-width="0.8"/>
<text x="0" y="0" font-size="6" font-weight="bold" text-anchor="middle" fill="#111"  textLength="40.5" lengthAdjust="spacingAndGlyphs" transform="translate(12.8,132.75) rotate(-90)">AWC(g g-1DW)</text>
<g stroke="#f0c8a8" stroke-width="0.6"><line x1="27.4" y1="101.5" x2="27.4" y2="113.5"/><line x1="26.2" y1="101.5" x2="28.599999999999998" y2="101.5"/><line x1="26.2" y1="113.5" x2="28.599999999999998" y2="113.5"/></g>
<g stroke="#f0c8a8" stroke-width="0.6"><line x1="36.8" y1="119.5" x2="36.8" y2="125.5"/><line x1="35.599999999999994" y1="119.5" x2="38.0" y2="119.5"/><line x1="35.599999999999994" y1="125.5" x2="38.0" y2="125.5"/></g>
<g stroke="#f0c8a8" stroke-width="0.6"><line x1="46.2" y1="129" x2="46.2" y2="137"/><line x1="45.0" y1="129" x2="47.400000000000006" y2="129"/><line x1="45.0" y1="137" x2="47.400000000000006" y2="137"/></g>
<g stroke="#f0c8a8" stroke-width="0.6"><line x1="65.1" y1="121" x2="65.1" y2="124.5"/><line x1="63.89999999999999" y1="121" x2="66.3" y2="121"/><line x1="63.89999999999999" y1="124.5" x2="66.3" y2="124.5"/></g>
<g stroke="#f0c8a8" stroke-width="0.6"><line x1="74.4" y1="117.5" x2="74.4" y2="121.5"/><line x1="73.2" y1="117.5" x2="75.60000000000001" y2="117.5"/><line x1="73.2" y1="121.5" x2="75.60000000000001" y2="121.5"/></g>
<g stroke="#f0c8a8" stroke-width="0.6"><line x1="83.7" y1="110" x2="83.7" y2="123"/><line x1="82.5" y1="110" x2="84.9" y2="110"/><line x1="82.5" y1="123" x2="84.9" y2="123"/></g>
<g stroke="#f0c8a8" stroke-width="0.6"><line x1="93.1" y1="106.7" x2="93.1" y2="114.6"/><line x1="91.89999999999999" y1="106.7" x2="94.3" y2="106.7"/><line x1="91.89999999999999" y1="114.6" x2="94.3" y2="114.6"/></g>
<g stroke="#f0c8a8" stroke-width="0.6"><line x1="102.5" y1="110" x2="102.5" y2="114"/><line x1="101.3" y1="110" x2="103.7" y2="110"/><line x1="101.3" y1="114" x2="103.7" y2="114"/></g>
<g stroke="#f0c8a8" stroke-width="0.6"><line x1="111.9" y1="104" x2="111.9" y2="115.5"/><line x1="110.7" y1="104" x2="113.10000000000001" y2="104"/><line x1="110.7" y1="115.5" x2="113.10000000000001" y2="115.5"/></g>
<polyline points="27.4,107.6 36.8,122.5 46.2,133.1 55.7,174.0 65.1,122.7 74.4,119.5 83.7,116.9 93.1,111.0 102.5,112.0 111.9,110.2" fill="none" stroke="#e49a48" stroke-width="1"/>
<path d="M27.4,105.89999999999999 L29.0,108.69999999999999 L25.799999999999997,108.69999999999999 Z" fill="#3a2a1a"/>
<path d="M36.8,120.8 L38.4,123.6 L35.199999999999996,123.6 Z" fill="#3a2a1a"/>
<path d="M46.2,131.4 L47.800000000000004,134.2 L44.6,134.2 Z" fill="#3a2a1a"/>
<path d="M55.7,172.3 L57.300000000000004,175.1 L54.1,175.1 Z" fill="#3a2a1a"/>
<path d="M65.1,121.0 L66.69999999999999,123.8 L63.49999999999999,123.8 Z" fill="#3a2a1a"/>
<path d="M74.4,117.8 L76.0,120.6 L72.80000000000001,120.6 Z" fill="#3a2a1a"/>
<path d="M83.7,115.2 L85.3,118.0 L82.10000000000001,118.0 Z" fill="#3a2a1a"/>
<path d="M93.1,109.3 L94.69999999999999,112.1 L91.5,112.1 Z" fill="#3a2a1a"/>
<path d="M102.5,110.3 L104.1,113.1 L100.9,113.1 Z" fill="#3a2a1a"/>
<path d="M111.9,108.5 L113.5,111.3 L110.30000000000001,111.3 Z" fill="#3a2a1a"/>
<text x="0.4" y="183.4" font-size="7" text-anchor="start" font-weight="bold" fill="#111" >E</text>
<line x1="20.9" y1="181.2" x2="20.9" y2="266.7" stroke="#3a3a3a" stroke-width="0.9"/>
<line x1="20.9" y1="266.7" x2="119" y2="266.7" stroke="#3a3a3a" stroke-width="0.9"/>
<line x1="19.599999999999998" y1="181.6" x2="20.9" y2="181.6" stroke="#3a3a3a" stroke-width="0.8"/>
<text x="18.5" y="183.79999999999998" font-size="6.0" text-anchor="end" font-weight="bold" fill="#111" >0.8</text>
<line x1="19.599999999999998" y1="203" x2="20.9" y2="203" stroke="#3a3a3a" stroke-width="0.8"/>
<text x="18.5" y="205.2" font-size="6.0" text-anchor="end" font-weight="bold" fill="#111" >0.6</text>
<line x1="19.599999999999998" y1="224.3" x2="20.9" y2="224.3" stroke="#3a3a3a" stroke-width="0.8"/>
<text x="18.5" y="226.5" font-size="6.0" text-anchor="end" font-weight="bold" fill="#111" >0.4</text>
<line x1="19.599999999999998" y1="245.5" x2="20.9" y2="245.5" stroke="#3a3a3a" stroke-width="0.8"/>
<text x="18.5" y="247.7" font-size="6.0" text-anchor="end" font-weight="bold" fill="#111" >0.2</text>
<line x1="19.599999999999998" y1="266.7" x2="20.9" y2="266.7" stroke="#3a3a3a" stroke-width="0.8"/>
<text x="18.5" y="268.9" font-size="6.0" text-anchor="end" font-weight="bold" fill="#111" >0.0</text>
<line x1="27.4" y1="266.7" x2="27.4" y2="268.0" stroke="#3a3a3a" stroke-width="0.8"/>
<line x1="36.8" y1="266.7" x2="36.8" y2="268.0" stroke="#3a3a3a" stroke-width="0.8"/>
<line x1="46.2" y1="266.7" x2="46.2" y2="268.0" stroke="#3a3a3a" stroke-width="0.8"/>
<line x1="55.7" y1="266.7" x2="55.7" y2="268.0" stroke="#3a3a3a" stroke-width="0.8"/>
<line x1="65.1" y1="266.7" x2="65.1" y2="268.0" stroke="#3a3a3a" stroke-width="0.8"/>
<line x1="74.4" y1="266.7" x2="74.4" y2="268.0" stroke="#3a3a3a" stroke-width="0.8"/>
<line x1="83.7" y1="266.7" x2="83.7" y2="268.0" stroke="#3a3a3a" stroke-width="0.8"/>
<line x1="93.1" y1="266.7" x2="93.1" y2="268.0" stroke="#3a3a3a" stroke-width="0.8"/>
<line x1="102.5" y1="266.7" x2="102.5" y2="268.0" stroke="#3a3a3a" stroke-width="0.8"/>
<line x1="111.9" y1="266.7" x2="111.9" y2="268.0" stroke="#3a3a3a" stroke-width="0.8"/>
<line x1="19.9" y1="192.3" x2="20.9" y2="192.3" stroke="#3a3a3a" stroke-width="0.8"/>
<line x1="19.9" y1="213.65" x2="20.9" y2="213.65" stroke="#3a3a3a" stroke-width="0.8"/>
<line x1="19.9" y1="235" x2="20.9" y2="235" stroke="#3a3a3a" stroke-width="0.8"/>
<line x1="19.9" y1="256.1" x2="20.9" y2="256.1" stroke="#3a3a3a" stroke-width="0.8"/>
<text x="0" y="0" font-size="4.8" font-weight="bold" text-anchor="middle" fill="#111" font-style="italic" textLength="18" lengthAdjust="spacingAndGlyphs" transform="translate(7.7,226.6) rotate(-90)">Fv/Fm</text>
<g stroke="#b04050" stroke-width="0.6"><line x1="74.4" y1="202.5" x2="74.4" y2="210.7"/><line x1="73.2" y1="202.5" x2="75.60000000000001" y2="202.5"/><line x1="73.2" y1="210.7" x2="75.60000000000001" y2="210.7"/></g>
<g stroke="#b04050" stroke-width="0.6"><line x1="102.5" y1="194.7" x2="102.5" y2="201"/><line x1="101.3" y1="194.7" x2="103.7" y2="194.7"/><line x1="101.3" y1="201" x2="103.7" y2="201"/></g>
<g stroke="#b04050" stroke-width="0.6"><line x1="111.9" y1="195" x2="111.9" y2="202"/><line x1="110.7" y1="195" x2="113.10000000000001" y2="195"/><line x1="110.7" y1="202" x2="113.10000000000001" y2="202"/></g>
<polyline points="27.4,195.5 36.8,201.2 46.2,212.3 55.7,266.5 65.1,211.6 74.4,206.2 83.7,205.5 93.1,203.2 102.5,197.7 111.9,198.7" fill="none" stroke="#7080c8" stroke-width="1"/>
<circle cx="27.4" cy="195.5" r="1.85" fill="#eea0b8" stroke="#d02848" stroke-width="0.75"/>
<circle cx="36.8" cy="201.2" r="1.85" fill="#eea0b8" stroke="#d02848" stroke-width="0.75"/>
<circle cx="46.2" cy="212.3" r="1.85" fill="#eea0b8" stroke="#d02848" stroke-width="0.75"/>
<circle cx="55.7" cy="266.5" r="1.85" fill="#eea0b8" stroke="#d02848" stroke-width="0.75"/>
<circle cx="65.1" cy="211.6" r="1.85" fill="#eea0b8" stroke="#d02848" stroke-width="0.75"/>
<circle cx="74.4" cy="206.2" r="1.85" fill="#eea0b8" stroke="#d02848" stroke-width="0.75"/>
<circle cx="83.7" cy="205.5" r="1.85" fill="#eea0b8" stroke="#d02848" stroke-width="0.75"/>
<circle cx="93.1" cy="203.2" r="1.85" fill="#eea0b8" stroke="#d02848" stroke-width="0.75"/>
<circle cx="102.5" cy="197.7" r="1.85" fill="#eea0b8" stroke="#d02848" stroke-width="0.75"/>
<circle cx="111.9" cy="198.7" r="1.85" fill="#eea0b8" stroke="#d02848" stroke-width="0.75"/>
<text x="0" y="0" font-size="5.3" font-weight="bold" text-anchor="end" fill="#111" transform="translate(29.299999999999997,271.59999999999997) rotate(-45)">0h</text>
<text x="0" y="0" font-size="5.3" font-weight="bold" text-anchor="end" fill="#111" transform="translate(38.699999999999996,271.59999999999997) rotate(-45)">D2h</text>
<text x="0" y="0" font-size="5.3" font-weight="bold" text-anchor="end" fill="#111" transform="translate(48.1,271.59999999999997) rotate(-45)">D6h</text>
<text x="0" y="0" font-size="5.3" font-weight="bold" text-anchor="end" fill="#111" transform="translate(57.6,271.59999999999997) rotate(-45)">D24h</text>
<text x="0" y="0" font-size="5.3" font-weight="bold" text-anchor="end" fill="#111" transform="translate(67.0,271.59999999999997) rotate(-45)">R5min</text>
<text x="0" y="0" font-size="5.3" font-weight="bold" text-anchor="end" fill="#111" transform="translate(76.30000000000001,271.59999999999997) rotate(-45)">R0.5h</text>
<text x="0" y="0" font-size="5.3" font-weight="bold" text-anchor="end" fill="#111" transform="translate(85.60000000000001,271.59999999999997) rotate(-45)">R2h</text>
<text x="0" y="0" font-size="5.3" font-weight="bold" text-anchor="end" fill="#111" transform="translate(95.0,271.59999999999997) rotate(-45)">R6h</text>
<text x="0" y="0" font-size="5.3" font-weight="bold" text-anchor="end" fill="#111" transform="translate(104.4,271.59999999999997) rotate(-45)">R24h</text>
<text x="0" y="0" font-size="5.3" font-weight="bold" text-anchor="end" fill="#111" transform="translate(113.80000000000001,271.59999999999997) rotate(-45)">R48h</text>
<text x="117.8" y="83.0" font-size="7" text-anchor="start" font-weight="bold" fill="#111" >C</text>
<line x1="144.5" y1="86.2" x2="144.5" y2="175" stroke="#3a3a3a" stroke-width="0.9"/>
<line x1="144.5" y1="175" x2="257" y2="175" stroke="#3a3a3a" stroke-width="0.9"/>
<line x1="143.2" y1="86.5" x2="144.5" y2="86.5" stroke="#3a3a3a" stroke-width="0.8"/>
<text x="141.9" y="88.7" font-size="6.0" text-anchor="end" font-weight="bold" fill="#111" >200</text>
<line x1="143.2" y1="108.6" x2="144.5" y2="108.6" stroke="#3a3a3a" stroke-width="0.8"/>
<text x="141.9" y="110.8" font-size="6.0" text-anchor="end" font-weight="bold" fill="#111" >150</text>
<line x1="143.2" y1="130.8" x2="144.5" y2="130.8" stroke="#3a3a3a" stroke-width="0.8"/>
<text x="141.9" y="133.0" font-size="6.0" text-anchor="end" font-weight="bold" fill="#111" >100</text>
<line x1="143.2" y1="152.9" x2="144.5" y2="152.9" stroke="#3a3a3a" stroke-width="0.8"/>
<text x="141.9" y="155.1" font-size="6.0" text-anchor="end" font-weight="bold" fill="#111" >50</text>
<line x1="143.2" y1="175" x2="144.5" y2="175" stroke="#3a3a3a" stroke-width="0.8"/>
<text x="141.9" y="177.2" font-size="6.0" text-anchor="end" font-weight="bold" fill="#111" >0</text>
<text x="0" y="0" font-size="5.5" font-weight="bold" text-anchor="middle" fill="#111"  textLength="55.5" lengthAdjust="spacingAndGlyphs" transform="translate(130.9,127.75) rotate(-90)">MDA (nmol g<tspan font-size="3.8" dy="-1.6">-1</tspan><tspan dy="1.6"> DW)</tspan></text>
<g stroke="#666" stroke-width="0.6"><line x1="152.75" y1="165" x2="152.75" y2="166"/><line x1="151.15" y1="165" x2="154.35" y2="165"/></g>
<rect x="149" y="166" width="7.5" height="9" fill="#f7821b" stroke="#3a2a20" stroke-width="0.6"/>
<line x1="152.75" y1="175" x2="152.75" y2="176.2" stroke="#3a3a3a" stroke-width="0.8"/>
<g stroke="#666" stroke-width="0.6"><line x1="164.85" y1="161.4" x2="164.85" y2="164.2"/><line x1="163.25" y1="161.4" x2="166.45" y2="161.4"/></g>
<rect x="161.1" y="164.2" width="7.5" height="10.800000000000011" fill="#f7821b" stroke="#3a2a20" stroke-width="0.6"/>
<line x1="164.85" y1="175" x2="164.85" y2="176.2" stroke="#3a3a3a" stroke-width="0.8"/>
<g stroke="#666" stroke-width="0.6"><line x1="177.15" y1="135" x2="177.15" y2="138.7"/><line x1="175.55" y1="135" x2="178.75" y2="135"/></g>
<rect x="173.4" y="138.7" width="7.5" height="36.30000000000001" fill="#f7821b" stroke="#3a2a20" stroke-width="0.6"/>
<line x1="177.15" y1="175" x2="177.15" y2="176.2" stroke="#3a3a3a" stroke-width="0.8"/>
<text x="177.15" y="134.3" font-size="5" text-anchor="middle" font-weight="bold" fill="#333" >***</text>
<g stroke="#666" stroke-width="0.6"><line x1="188.95" y1="106" x2="188.95" y2="117.2"/><line x1="187.35" y1="106" x2="190.54999999999998" y2="106"/></g>
<rect x="185.2" y="117.2" width="7.5" height="57.8" fill="#f7821b" stroke="#3a2a20" stroke-width="0.6"/>
<line x1="188.95" y1="175" x2="188.95" y2="176.2" stroke="#3a3a3a" stroke-width="0.8"/>
<text x="188.95" y="106.4" font-size="5" text-anchor="middle" font-weight="bold" fill="#333" >***</text>
<g stroke="#666" stroke-width="0.6"><line x1="200.85" y1="154.3" x2="200.85" y2="158.7"/><line x1="199.25" y1="154.3" x2="202.45" y2="154.3"/></g>
<rect x="197.1" y="158.7" width="7.5" height="16.30000000000001" fill="#0a14e6" stroke="#3a2a20" stroke-width="0.6"/>
<line x1="200.85" y1="175" x2="200.85" y2="176.2" stroke="#3a3a3a" stroke-width="0.8"/>
<text x="200.85" y="153.9" font-size="5" text-anchor="middle" font-weight="bold" fill="#333" >*</text>
<g stroke="#666" stroke-width="0.6"><line x1="212.75" y1="155" x2="212.75" y2="160"/><line x1="211.15" y1="155" x2="214.35" y2="155"/></g>
<rect x="209" y="160" width="7.5" height="15" fill="#0a14e6" stroke="#3a2a20" stroke-width="0.6"/>
<line x1="212.75" y1="175" x2="212.75" y2="176.2" stroke="#3a3a3a" stroke-width="0.8"/>
<g stroke="#666" stroke-width="0.6"><line x1="225.15" y1="147.2" x2="225.15" y2="149"/><line x1="223.55" y1="147.2" x2="226.75" y2="147.2"/></g>
<rect x="221.4" y="149" width="7.5" height="26" fill="#0a14e6" stroke="#3a2a20" stroke-width="0.6"/>
<line x1="225.15" y1="175" x2="225.15" y2="176.2" stroke="#3a3a3a" stroke-width="0.8"/>
<text x="225.15" y="146.6" font-size="5" text-anchor="middle" font-weight="bold" fill="#333" >***</text>
<g stroke="#666" stroke-width="0.6"><line x1="237.05" y1="135.8" x2="237.05" y2="140.2"/><line x1="235.45000000000002" y1="135.8" x2="238.65" y2="135.8"/></g>
<rect x="233.3" y="140.2" width="7.5" height="34.80000000000001" fill="#0a14e6" stroke="#3a2a20" stroke-width="0.6"/>
<line x1="237.05" y1="175" x2="237.05" y2="176.2" stroke="#3a3a3a" stroke-width="0.8"/>
<text x="237.05" y="136.1" font-size="5" text-anchor="middle" font-weight="bold" fill="#333" >***</text>
<g stroke="#666" stroke-width="0.6"><line x1="248.95" y1="151.6" x2="248.95" y2="157.8"/><line x1="247.35" y1="151.6" x2="250.54999999999998" y2="151.6"/></g>
<rect x="245.2" y="157.8" width="7.5" height="17.19999999999999" fill="#0a14e6" stroke="#3a2a20" stroke-width="0.6"/>
<line x1="248.95" y1="175" x2="248.95" y2="176.2" stroke="#3a3a3a" stroke-width="0.8"/>
<text x="248.95" y="151.9" font-size="5" text-anchor="middle" font-weight="bold" fill="#333" >*</text>
<text x="257.3" y="82.8" font-size="7" text-anchor="start" font-weight="bold" fill="#111" >D</text>
<line x1="278.8" y1="85.9" x2="278.8" y2="174.3" stroke="#3a3a3a" stroke-width="0.9"/>
<line x1="278.8" y1="174.3" x2="392" y2="174.3" stroke="#3a3a3a" stroke-width="0.9"/>
<line x1="277.5" y1="86.5" x2="278.8" y2="86.5" stroke="#3a3a3a" stroke-width="0.8"/>
<text x="276.2" y="88.7" font-size="6.0" text-anchor="end" font-weight="bold" fill="#111" >40</text>
<line x1="277.5" y1="108.4" x2="278.8" y2="108.4" stroke="#3a3a3a" stroke-width="0.8"/>
<text x="276.2" y="110.60000000000001" font-size="6.0" text-anchor="end" font-weight="bold" fill="#111" >30</text>
<line x1="277.5" y1="130.3" x2="278.8" y2="130.3" stroke="#3a3a3a" stroke-width="0.8"/>
<text x="276.2" y="132.5" font-size="6.0" text-anchor="end" font-weight="bold" fill="#111" >20</text>
<line x1="277.5" y1="152.2" x2="278.8" y2="152.2" stroke="#3a3a3a" stroke-width="0.8"/>
<text x="276.2" y="154.39999999999998" font-size="6.0" text-anchor="end" font-weight="bold" fill="#111" >10</text>
<line x1="277.5" y1="174.3" x2="278.8" y2="174.3" stroke="#3a3a3a" stroke-width="0.8"/>
<text x="276.2" y="176.5" font-size="6.0" text-anchor="end" font-weight="bold" fill="#111" >0</text>
<text x="0" y="0" font-size="5.3" font-weight="bold" text-anchor="middle" fill="#111"  textLength="64.5" lengthAdjust="spacingAndGlyphs" transform="translate(266.6,128.75) rotate(-90)">H<tspan font-size="3.8" dy="1">2</tspan><tspan dy="-1">O</tspan><tspan font-size="3.8" dy="1">2</tspan><tspan dy="-1"> (nmol gprot</tspan><tspan font-size="3.8" dy="-1.6">-1</tspan><tspan dy="1.6"> DW)</tspan></text>
<g stroke="#666" stroke-width="0.6"><line x1="287.25" y1="129.7" x2="287.25" y2="135.5"/><line x1="285.65" y1="129.7" x2="288.85" y2="129.7"/></g>
<rect x="283.5" y="135.5" width="7.5" height="38.80000000000001" fill="#f7821b" stroke="#3a2a20" stroke-width="0.6"/>
<line x1="287.25" y1="174.3" x2="287.25" y2="175.5" stroke="#3a3a3a" stroke-width="0.8"/>
<g stroke="#666" stroke-width="0.6"><line x1="299.15" y1="111.1" x2="299.15" y2="116.7"/><line x1="297.54999999999995" y1="111.1" x2="300.75" y2="111.1"/></g>
<rect x="295.4" y="116.7" width="7.5" height="57.60000000000001" fill="#f7821b" stroke="#3a2a20" stroke-width="0.6"/>
<line x1="299.15" y1="174.3" x2="299.15" y2="175.5" stroke="#3a3a3a" stroke-width="0.8"/>
<text x="299.15" y="110.5" font-size="5" text-anchor="middle" font-weight="bold" fill="#333" >***</text>
<g stroke="#666" stroke-width="0.6"><line x1="310.85" y1="102.4" x2="310.85" y2="112"/><line x1="309.25" y1="102.4" x2="312.45000000000005" y2="102.4"/></g>
<rect x="307.1" y="112" width="7.5" height="62.30000000000001" fill="#f7821b" stroke="#3a2a20" stroke-width="0.6"/>
<line x1="310.85" y1="174.3" x2="310.85" y2="175.5" stroke="#3a3a3a" stroke-width="0.8"/>
<text x="310.85" y="101.4" font-size="5" text-anchor="middle" font-weight="bold" fill="#333" >***</text>
<g stroke="#666" stroke-width="0.6"><line x1="323.15" y1="90" x2="323.15" y2="92.7"/><line x1="321.54999999999995" y1="90" x2="324.75" y2="90"/></g>
<rect x="319.4" y="92.7" width="7.5" height="81.60000000000001" fill="#f7821b" stroke="#3a2a20" stroke-width="0.6"/>
<line x1="323.15" y1="174.3" x2="323.15" y2="175.5" stroke="#3a3a3a" stroke-width="0.8"/>
<text x="323.15" y="90.9" font-size="5" text-anchor="middle" font-weight="bold" fill="#333" >***</text>
<g stroke="#666" stroke-width="0.6"><line x1="335.15" y1="102.4" x2="335.15" y2="106.8"/><line x1="333.54999999999995" y1="102.4" x2="336.75" y2="102.4"/></g>
<rect x="331.4" y="106.8" width="7.5" height="67.50000000000001" fill="#0a14e6" stroke="#3a2a20" stroke-width="0.6"/>
<line x1="335.15" y1="174.3" x2="335.15" y2="175.5" stroke="#3a3a3a" stroke-width="0.8"/>
<text x="335.15" y="102.60000000000001" font-size="5" text-anchor="middle" font-weight="bold" fill="#333" >***</text>
<g stroke="#666" stroke-width="0.6"><line x1="347.25" y1="117.5" x2="347.25" y2="122.6"/><line x1="345.65" y1="117.5" x2="348.85" y2="117.5"/></g>
<rect x="343.5" y="122.6" width="7.5" height="51.70000000000002" fill="#0a14e6" stroke="#3a2a20" stroke-width="0.6"/>
<line x1="347.25" y1="174.3" x2="347.25" y2="175.5" stroke="#3a3a3a" stroke-width="0.8"/>
<text x="347.25" y="117.4" font-size="5" text-anchor="middle" font-weight="bold" fill="#333" >*</text>
<g stroke="#666" stroke-width="0.6"><line x1="359.15" y1="109" x2="359.15" y2="116.5"/><line x1="357.54999999999995" y1="109" x2="360.75" y2="109"/></g>
<rect x="355.4" y="116.5" width="7.5" height="57.80000000000001" fill="#0a14e6" stroke="#3a2a20" stroke-width="0.6"/>
<line x1="359.15" y1="174.3" x2="359.15" y2="175.5" stroke="#3a3a3a" stroke-width="0.8"/>
<text x="359.15" y="109.30000000000001" font-size="5" text-anchor="middle" font-weight="bold" fill="#333" >***</text>
<g stroke="#666" stroke-width="0.6"><line x1="371.05" y1="118.2" x2="371.05" y2="122"/><line x1="369.45" y1="118.2" x2="372.65000000000003" y2="118.2"/></g>
<rect x="367.3" y="122" width="7.5" height="52.30000000000001" fill="#0a14e6" stroke="#3a2a20" stroke-width="0.6"/>
<line x1="371.05" y1="174.3" x2="371.05" y2="175.5" stroke="#3a3a3a" stroke-width="0.8"/>
<text x="371.05" y="119.80000000000001" font-size="5" text-anchor="middle" font-weight="bold" fill="#333" >**</text>
<g stroke="#666" stroke-width="0.6"><line x1="383.25" y1="132.8" x2="383.25" y2="138.1"/><line x1="381.65" y1="132.8" x2="384.85" y2="132.8"/></g>
<rect x="379.5" y="138.1" width="7.5" height="36.20000000000002" fill="#0a14e6" stroke="#3a2a20" stroke-width="0.6"/>
<line x1="383.25" y1="174.3" x2="383.25" y2="175.5" stroke="#3a3a3a" stroke-width="0.8"/>
<text x="121.8" y="183.0" font-size="7" text-anchor="start" font-weight="bold" fill="#111" >F</text>
<line x1="145.0" y1="181.3" x2="145.0" y2="268" stroke="#3a3a3a" stroke-width="0.9"/>
<line x1="145.0" y1="268" x2="254" y2="268" stroke="#3a3a3a" stroke-width="0.9"/>
<line x1="143.7" y1="182.4" x2="145.0" y2="182.4" stroke="#3a3a3a" stroke-width="0.8"/>
<text x="142.4" y="184.6" font-size="6.0" text-anchor="end" font-weight="bold" fill="#111" >0.03</text>
<line x1="143.7" y1="211" x2="145.0" y2="211" stroke="#3a3a3a" stroke-width="0.8"/>
<text x="142.4" y="213.2" font-size="6.0" text-anchor="end" font-weight="bold" fill="#111" >0.02</text>
<line x1="143.7" y1="239.5" x2="145.0" y2="239.5" stroke="#3a3a3a" stroke-width="0.8"/>
<text x="142.4" y="241.7" font-size="6.0" text-anchor="end" font-weight="bold" fill="#111" >0.01</text>
<line x1="143.7" y1="268" x2="145.0" y2="268" stroke="#3a3a3a" stroke-width="0.8"/>
<text x="142.4" y="270.2" font-size="6.0" text-anchor="end" font-weight="bold" fill="#111" >0.00</text>
<text x="0" y="0" font-size="5.5" font-weight="bold" text-anchor="middle" fill="#111"  textLength="57" lengthAdjust="spacingAndGlyphs" transform="translate(129.1,224) rotate(-90)">POD (U mgprot<tspan font-size="3.8" dy="-1.6">-1</tspan><tspan dy="1.6"> DW)</tspan></text>
<g stroke="#666" stroke-width="0.6"><line x1="153.25" y1="220.9" x2="153.25" y2="231.9"/><line x1="151.65" y1="220.9" x2="154.85" y2="220.9"/></g>
<rect x="149.5" y="231.9" width="7.5" height="36.099999999999994" fill="#f7821b" stroke="#3a2a20" stroke-width="0.6"/>
<line x1="153.25" y1="268" x2="153.25" y2="269.2" stroke="#3a3a3a" stroke-width="0.8"/>
<g stroke="#666" stroke-width="0.6"><line x1="164.95" y1="187" x2="164.95" y2="191.5"/><line x1="163.35" y1="187" x2="166.54999999999998" y2="187"/></g>
<rect x="161.2" y="191.5" width="7.5" height="76.5" fill="#f7821b" stroke="#3a2a20" stroke-width="0.6"/>
<line x1="164.95" y1="268" x2="164.95" y2="269.2" stroke="#3a3a3a" stroke-width="0.8"/>
<text x="164.95" y="186.1" font-size="5" text-anchor="middle" font-weight="bold" fill="#333" >***</text>
<g stroke="#666" stroke-width="0.6"><line x1="176.15" y1="192" x2="176.15" y2="198"/><line x1="174.55" y1="192" x2="177.75" y2="192"/></g>
<rect x="172.4" y="198" width="7.5" height="70" fill="#f7821b" stroke="#3a2a20" stroke-width="0.6"/>
<line x1="176.15" y1="268" x2="176.15" y2="269.2" stroke="#3a3a3a" stroke-width="0.8"/>
<text x="176.15" y="191.4" font-size="5" text-anchor="middle" font-weight="bold" fill="#333" >***</text>
<g stroke="#666" stroke-width="0.6"><line x1="187.75" y1="219" x2="187.75" y2="230"/><line x1="186.15" y1="219" x2="189.35" y2="219"/></g>
<rect x="184" y="230" width="7.5" height="38" fill="#f7821b" stroke="#3a2a20" stroke-width="0.6"/>
<line x1="187.75" y1="268" x2="187.75" y2="269.2" stroke="#3a3a3a" stroke-width="0.8"/>
<g stroke="#666" stroke-width="0.6"><line x1="199.75" y1="215.3" x2="199.75" y2="218.7"/><line x1="198.15" y1="215.3" x2="201.35" y2="215.3"/></g>
<rect x="196" y="218.7" width="7.5" height="49.30000000000001" fill="#0a14e6" stroke="#3a2a20" stroke-width="0.6"/>
<line x1="199.75" y1="268" x2="199.75" y2="269.2" stroke="#3a3a3a" stroke-width="0.8"/>
<g stroke="#666" stroke-width="0.6"><line x1="211.15" y1="199.2" x2="211.15" y2="207"/><line x1="209.55" y1="199.2" x2="212.75" y2="199.2"/></g>
<rect x="207.4" y="207" width="7.5" height="61" fill="#0a14e6" stroke="#3a2a20" stroke-width="0.6"/>
<line x1="211.15" y1="268" x2="211.15" y2="269.2" stroke="#3a3a3a" stroke-width="0.8"/>
<text x="211.15" y="198.5" font-size="5" text-anchor="middle" font-weight="bold" fill="#333" >***</text>
<g stroke="#666" stroke-width="0.6"><line x1="222.75" y1="210" x2="222.75" y2="219"/><line x1="221.15" y1="210" x2="224.35" y2="210"/></g>
<rect x="219" y="219" width="7.5" height="49" fill="#0a14e6" stroke="#3a2a20" stroke-width="0.6"/>
<line x1="222.75" y1="268" x2="222.75" y2="269.2" stroke="#3a3a3a" stroke-width="0.8"/>
<g stroke="#666" stroke-width="0.6"><line x1="234.45" y1="199.4" x2="234.45" y2="203.5"/><line x1="232.85" y1="199.4" x2="236.04999999999998" y2="199.4"/></g>
<rect x="230.7" y="203.5" width="7.5" height="64.5" fill="#0a14e6" stroke="#3a2a20" stroke-width="0.6"/>
<line x1="234.45" y1="268" x2="234.45" y2="269.2" stroke="#3a3a3a" stroke-width="0.8"/>
<text x="234.45" y="198.5" font-size="5" text-anchor="middle" font-weight="bold" fill="#333" >***</text>
<g stroke="#666" stroke-width="0.6"><line x1="245.95" y1="229.7" x2="245.95" y2="232.9"/><line x1="244.35" y1="229.7" x2="247.54999999999998" y2="229.7"/></g>
<rect x="242.2" y="232.9" width="7.5" height="35.099999999999994" fill="#0a14e6" stroke="#3a2a20" stroke-width="0.6"/>
<line x1="245.95" y1="268" x2="245.95" y2="269.2" stroke="#3a3a3a" stroke-width="0.8"/>
<text x="0" y="0" font-size="5.3" font-weight="bold" text-anchor="end" fill="#111" transform="translate(152.20,272.5) rotate(-45)">0h</text>
<text x="0" y="0" font-size="5.3" font-weight="bold" text-anchor="end" fill="#111" transform="translate(164.50,272.5) rotate(-45)">D2h</text>
<text x="0" y="0" font-size="5.3" font-weight="bold" text-anchor="end" fill="#111" transform="translate(176.80,272.5) rotate(-45)">D6h</text>
<text x="0" y="0" font-size="5.3" font-weight="bold" text-anchor="end" fill="#111" transform="translate(189.10,272.5) rotate(-45)">D24h</text>
<text x="0" y="0" font-size="5.3" font-weight="bold" text-anchor="end" fill="#111" transform="translate(201.40,272.5) rotate(-45)">R0.5h</text>
<text x="0" y="0" font-size="5.3" font-weight="bold" text-anchor="end" fill="#111" transform="translate(213.70,272.5) rotate(-45)">R2h</text>
<text x="0" y="0" font-size="5.3" font-weight="bold" text-anchor="end" fill="#111" transform="translate(226.00,272.5) rotate(-45)">R6h</text>
<text x="0" y="0" font-size="5.3" font-weight="bold" text-anchor="end" fill="#111" transform="translate(238.30,272.5) rotate(-45)">R24h</text>
<text x="0" y="0" font-size="5.3" font-weight="bold" text-anchor="end" fill="#111" transform="translate(250.60,272.5) rotate(-45)">R48h</text>
<text x="257.0" y="183.4" font-size="7" text-anchor="start" font-weight="bold" fill="#111" >G</text>
<line x1="282.5" y1="181.0" x2="282.5" y2="268" stroke="#3a3a3a" stroke-width="0.9"/>
<line x1="282.5" y1="268" x2="395" y2="268" stroke="#3a3a3a" stroke-width="0.9"/>
<line x1="281.2" y1="181.3" x2="282.5" y2="181.3" stroke="#3a3a3a" stroke-width="0.8"/>
<text x="279.9" y="183.5" font-size="6.0" text-anchor="end" font-weight="bold" fill="#111" >0.05</text>
<line x1="281.2" y1="198.0" x2="282.5" y2="198.0" stroke="#3a3a3a" stroke-width="0.8"/>
<text x="279.9" y="200.2" font-size="6.0" text-anchor="end" font-weight="bold" fill="#111" >0.04</text>
<line x1="281.2" y1="215.2" x2="282.5" y2="215.2" stroke="#3a3a3a" stroke-width="0.8"/>
<text x="279.9" y="217.39999999999998" font-size="6.0" text-anchor="end" font-weight="bold" fill="#111" >0.03</text>
<line x1="281.2" y1="233.0" x2="282.5" y2="233.0" stroke="#3a3a3a" stroke-width="0.8"/>
<text x="279.9" y="235.2" font-size="6.0" text-anchor="end" font-weight="bold" fill="#111" >0.02</text>
<line x1="281.2" y1="250.6" x2="282.5" y2="250.6" stroke="#3a3a3a" stroke-width="0.8"/>
<text x="279.9" y="252.79999999999998" font-size="6.0" text-anchor="end" font-weight="bold" fill="#111" >0.01</text>
<line x1="281.2" y1="268" x2="282.5" y2="268" stroke="#3a3a3a" stroke-width="0.8"/>
<text x="279.9" y="270.2" font-size="6.0" text-anchor="end" font-weight="bold" fill="#111" >0.00</text>
<text x="0" y="0" font-size="5.3" font-weight="bold" text-anchor="middle" fill="#111"  textLength="57" lengthAdjust="spacingAndGlyphs" transform="translate(266.6,224) rotate(-90)">SOD(U μgprot<tspan font-size="3.8" dy="-1.6">-1</tspan><tspan dy="1.6"> DW)</tspan></text>
<g stroke="#666" stroke-width="0.6"><line x1="290.35" y1="217.3" x2="290.35" y2="221"/><line x1="288.75" y1="217.3" x2="291.95000000000005" y2="217.3"/></g>
<rect x="286.6" y="221" width="7.5" height="47" fill="#f7821b" stroke="#3a2a20" stroke-width="0.6"/>
<line x1="290.35" y1="268" x2="290.35" y2="269.2" stroke="#3a3a3a" stroke-width="0.8"/>
<g stroke="#666" stroke-width="0.6"><line x1="302.25" y1="208.5" x2="302.25" y2="210"/><line x1="300.65" y1="208.5" x2="303.85" y2="208.5"/></g>
<rect x="298.5" y="210" width="7.5" height="58" fill="#f7821b" stroke="#3a2a20" stroke-width="0.6"/>
<line x1="302.25" y1="268" x2="302.25" y2="269.2" stroke="#3a3a3a" stroke-width="0.8"/>
<text x="302.25" y="208.1" font-size="5" text-anchor="middle" font-weight="bold" fill="#333" >**</text>
<g stroke="#666" stroke-width="0.6"><line x1="314.05" y1="200.8" x2="314.05" y2="202.2"/><line x1="312.45" y1="200.8" x2="315.65000000000003" y2="200.8"/></g>
<rect x="310.3" y="202.2" width="7.5" height="65.80000000000001" fill="#f7821b" stroke="#3a2a20" stroke-width="0.6"/>
<line x1="314.05" y1="268" x2="314.05" y2="269.2" stroke="#3a3a3a" stroke-width="0.8"/>
<text x="314.05" y="200.4" font-size="5" text-anchor="middle" font-weight="bold" fill="#333" >***</text>
<g stroke="#666" stroke-width="0.6"><line x1="326.65" y1="234.5" x2="326.65" y2="239"/><line x1="325.04999999999995" y1="234.5" x2="328.25" y2="234.5"/></g>
<rect x="322.9" y="239" width="7.5" height="29" fill="#f7821b" stroke="#3a2a20" stroke-width="0.6"/>
<line x1="326.65" y1="268" x2="326.65" y2="269.2" stroke="#3a3a3a" stroke-width="0.8"/>
<text x="326.65" y="234.4" font-size="5" text-anchor="middle" font-weight="bold" fill="#333" >***</text>
<g stroke="#666" stroke-width="0.6"><line x1="338.95" y1="219" x2="338.95" y2="224.4"/><line x1="337.34999999999997" y1="219" x2="340.55" y2="219"/></g>
<rect x="335.2" y="224.4" width="7.5" height="43.599999999999994" fill="#0a14e6" stroke="#3a2a20" stroke-width="0.6"/>
<line x1="338.95" y1="268" x2="338.95" y2="269.2" stroke="#3a3a3a" stroke-width="0.8"/>
<g stroke="#666" stroke-width="0.6"><line x1="350.75" y1="208.4" x2="350.75" y2="215.4"/><line x1="349.15" y1="208.4" x2="352.35" y2="208.4"/></g>
<rect x="347" y="215.4" width="7.5" height="52.599999999999994" fill="#0a14e6" stroke="#3a2a20" stroke-width="0.6"/>
<line x1="350.75" y1="268" x2="350.75" y2="269.2" stroke="#3a3a3a" stroke-width="0.8"/>
<g stroke="#666" stroke-width="0.6"><line x1="362.75" y1="206.4" x2="362.75" y2="211.4"/><line x1="361.15" y1="206.4" x2="364.35" y2="206.4"/></g>
<rect x="359" y="211.4" width="7.5" height="56.599999999999994" fill="#0a14e6" stroke="#3a2a20" stroke-width="0.6"/>
<line x1="362.75" y1="268" x2="362.75" y2="269.2" stroke="#3a3a3a" stroke-width="0.8"/>
<text x="362.75" y="205.9" font-size="5" text-anchor="middle" font-weight="bold" fill="#333" >*</text>
<g stroke="#666" stroke-width="0.6"><line x1="375.25" y1="227" x2="375.25" y2="235.7"/><line x1="373.65" y1="227" x2="376.85" y2="227"/></g>
<rect x="371.5" y="235.7" width="7.5" height="32.30000000000001" fill="#0a14e6" stroke="#3a2a20" stroke-width="0.6"/>
<line x1="375.25" y1="268" x2="375.25" y2="269.2" stroke="#3a3a3a" stroke-width="0.8"/>
<text x="375.25" y="226.9" font-size="5" text-anchor="middle" font-weight="bold" fill="#333" >***</text>
<g stroke="#666" stroke-width="0.6"><line x1="387.45" y1="228" x2="387.45" y2="232"/><line x1="385.84999999999997" y1="228" x2="389.05" y2="228"/></g>
<rect x="383.7" y="232" width="7.5" height="36" fill="#0a14e6" stroke="#3a2a20" stroke-width="0.6"/>
<line x1="387.45" y1="268" x2="387.45" y2="269.2" stroke="#3a3a3a" stroke-width="0.8"/>
<text x="387.45" y="227.9" font-size="5" text-anchor="middle" font-weight="bold" fill="#333" >**</text>
<text x="0" y="0" font-size="5.3" font-weight="bold" text-anchor="end" fill="#111" transform="translate(289.75,272.5) rotate(-45)">0h</text>
<text x="0" y="0" font-size="5.3" font-weight="bold" text-anchor="end" fill="#111" transform="translate(301.65,272.5) rotate(-45)">D2h</text>
<text x="0" y="0" font-size="5.3" font-weight="bold" text-anchor="end" fill="#111" transform="translate(313.45,272.5) rotate(-45)">D6h</text>
<text x="0" y="0" font-size="5.3" font-weight="bold" text-anchor="end" fill="#111" transform="translate(326.05,272.5) rotate(-45)">D24h</text>
<text x="0" y="0" font-size="5.3" font-weight="bold" text-anchor="end" fill="#111" transform="translate(338.35,272.5) rotate(-45)">R0.5h</text>
<text x="0" y="0" font-size="5.3" font-weight="bold" text-anchor="end" fill="#111" transform="translate(350.15,272.5) rotate(-45)">R2h</text>
<text x="0" y="0" font-size="5.3" font-weight="bold" text-anchor="end" fill="#111" transform="translate(362.15,272.5) rotate(-45)">R6h</text>
<text x="0" y="0" font-size="5.3" font-weight="bold" text-anchor="end" fill="#111" transform="translate(374.65,272.5) rotate(-45)">R24h</text>
<text x="0" y="0" font-size="5.3" font-weight="bold" text-anchor="end" fill="#111" transform="translate(386.85,272.5) rotate(-45)">R48h</text>
</svg>
</body></html>
